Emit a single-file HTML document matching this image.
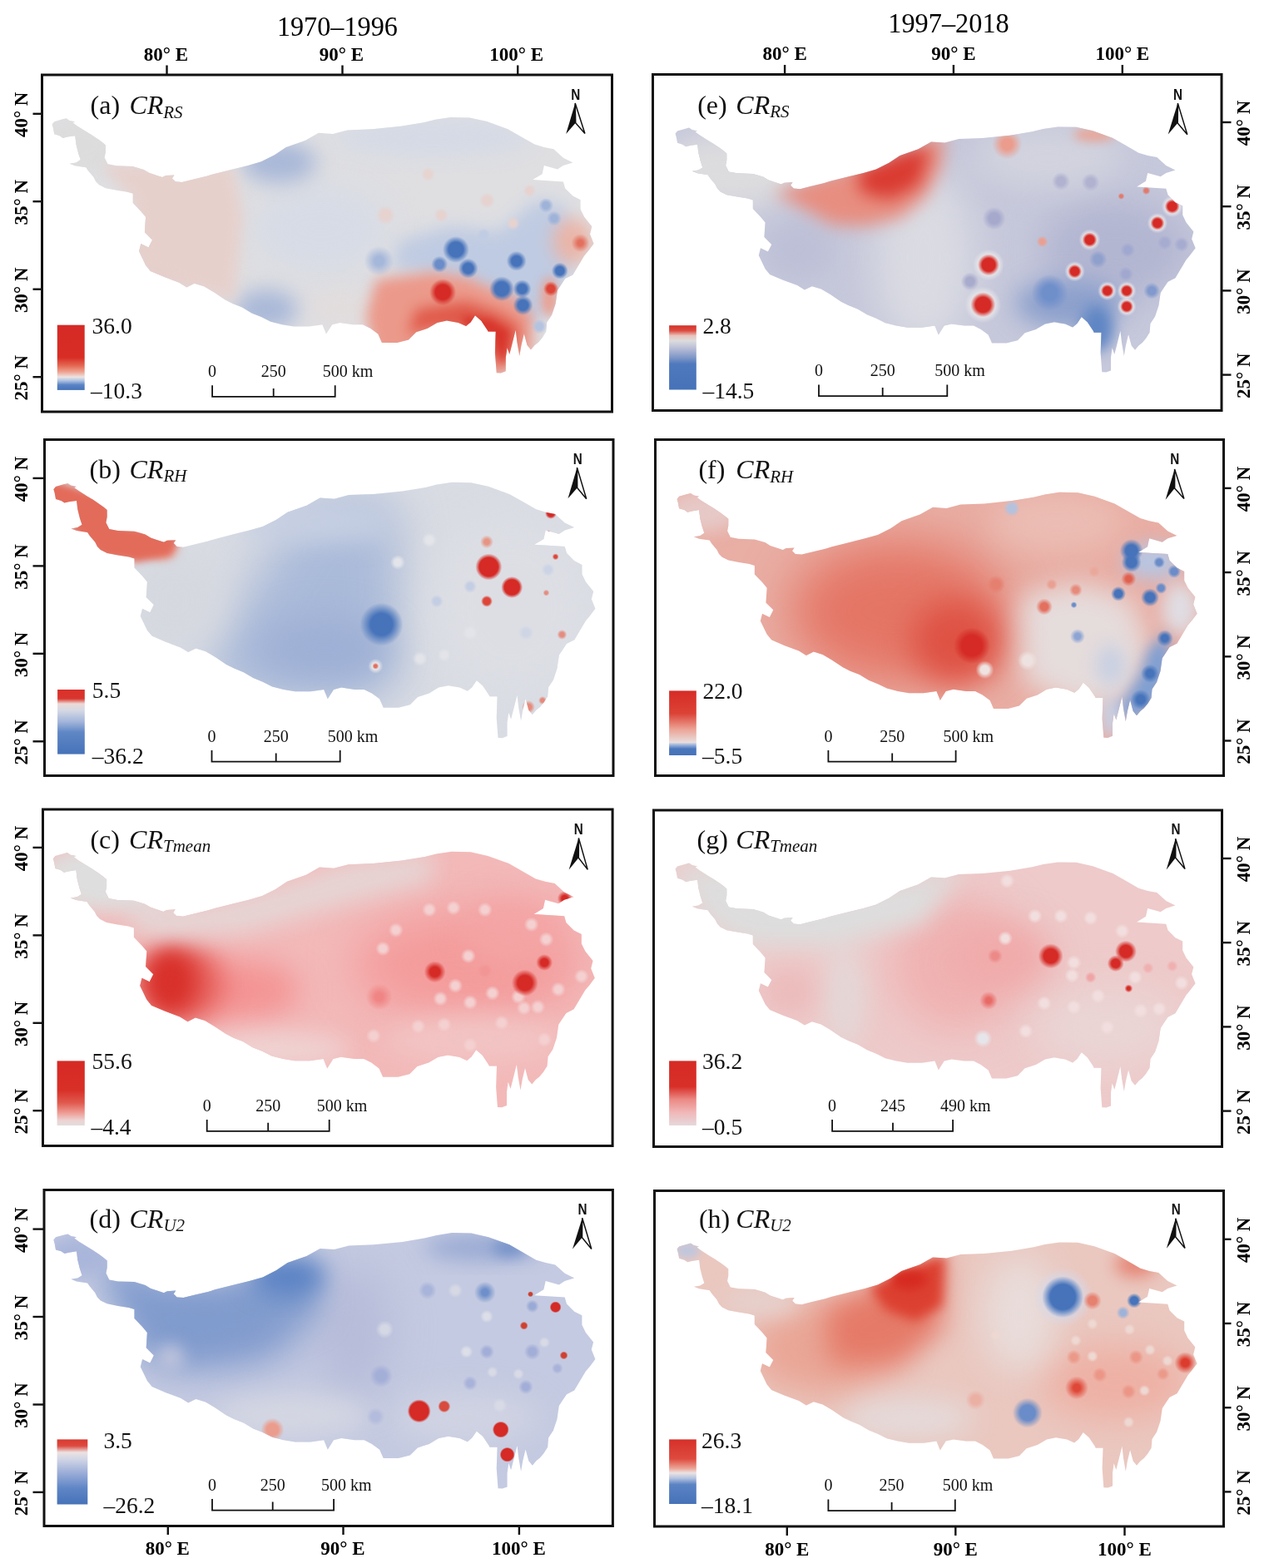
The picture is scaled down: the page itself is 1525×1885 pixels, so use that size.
<!DOCTYPE html>
<html><head><meta charset="utf-8"><title>CR maps</title>
<style>html,body{margin:0;padding:0;background:#fff;}svg{display:block;filter:blur(0.45px);}</style></head>
<body><svg width="1525" height="1885" viewBox="0 0 1525 1885">
<defs><filter id="b4" x="-60%" y="-60%" width="220%" height="220%" color-interpolation-filters="sRGB"><feGaussianBlur stdDeviation="4"/></filter>
<filter id="b5" x="-60%" y="-60%" width="220%" height="220%" color-interpolation-filters="sRGB"><feGaussianBlur stdDeviation="5"/></filter>
<filter id="b6" x="-60%" y="-60%" width="220%" height="220%" color-interpolation-filters="sRGB"><feGaussianBlur stdDeviation="6"/></filter>
<filter id="b7" x="-60%" y="-60%" width="220%" height="220%" color-interpolation-filters="sRGB"><feGaussianBlur stdDeviation="7"/></filter>
<filter id="b8" x="-60%" y="-60%" width="220%" height="220%" color-interpolation-filters="sRGB"><feGaussianBlur stdDeviation="8"/></filter>
<filter id="b10" x="-60%" y="-60%" width="220%" height="220%" color-interpolation-filters="sRGB"><feGaussianBlur stdDeviation="10"/></filter>
<filter id="b12" x="-60%" y="-60%" width="220%" height="220%" color-interpolation-filters="sRGB"><feGaussianBlur stdDeviation="12"/></filter>
<filter id="b14" x="-60%" y="-60%" width="220%" height="220%" color-interpolation-filters="sRGB"><feGaussianBlur stdDeviation="14"/></filter>
<filter id="b16" x="-60%" y="-60%" width="220%" height="220%" color-interpolation-filters="sRGB"><feGaussianBlur stdDeviation="16"/></filter>
<filter id="b18" x="-60%" y="-60%" width="220%" height="220%" color-interpolation-filters="sRGB"><feGaussianBlur stdDeviation="18"/></filter>
<filter id="b20" x="-60%" y="-60%" width="220%" height="220%" color-interpolation-filters="sRGB"><feGaussianBlur stdDeviation="20"/></filter>
<filter id="b22" x="-60%" y="-60%" width="220%" height="220%" color-interpolation-filters="sRGB"><feGaussianBlur stdDeviation="22"/></filter>
<filter id="b24" x="-60%" y="-60%" width="220%" height="220%" color-interpolation-filters="sRGB"><feGaussianBlur stdDeviation="24"/></filter>
<filter id="b26" x="-60%" y="-60%" width="220%" height="220%" color-interpolation-filters="sRGB"><feGaussianBlur stdDeviation="26"/></filter>
<filter id="b28" x="-60%" y="-60%" width="220%" height="220%" color-interpolation-filters="sRGB"><feGaussianBlur stdDeviation="28"/></filter>
<filter id="b30" x="-60%" y="-60%" width="220%" height="220%" color-interpolation-filters="sRGB"><feGaussianBlur stdDeviation="30"/></filter>
<clipPath id="clip_a"><path d="M62.6,149.5 L65.2,146.2 L74.4,143.6 L79.7,142.3 L83.6,144.9 L90.2,146.2 L87.5,147.5 L92.8,151.4 L103.3,158 L109.8,161.9 L117.7,167.2 L123,171.1 L126.9,174.4 L126.9,182.9 L125.6,189.5 L129.5,197.3 L140,199.3 L159.7,200 L166.2,201.9 L172.8,203.9 L179.3,207.8 L187.2,210.5 L195.1,213.1 L199,211.1 L209.5,210.5 L206.9,214.4 L210.8,218.3 L218.7,219 L231.8,215.7 L248.2,211.8 L256.6,209.2 L279.5,203.4 L297.9,198.9 L314,194.3 L330,186.2 L343.8,177 L366.7,169 L382.8,159.8 L400,161 L417.5,156.4 L447.4,155.2 L481.8,151.8 L509.3,147.2 L523.1,143.8 L541.5,141 L564.4,141.5 L585.1,146.1 L610.3,155.2 L626.4,164.4 L642.5,173.6 L653.9,177 L665.4,179.3 L676.9,189.7 L688.4,195.4 L676.9,198.9 L670,203.4 L653.9,198.9 L651.6,209.2 L640.2,216.1 L676.9,218.4 L679.2,226.4 L688.4,235.6 L697.6,240.2 L697.6,251.6 L702.1,260.8 L711.3,272.3 L709,281.5 L713.6,293 L706.7,302.1 L702.1,307.5 L688.4,330.5 L679.2,335.1 L674.6,342 L670,348.9 L667.7,364.9 L663.1,378.7 L657.3,387.5 L656.4,398.6 L651.8,405.9 L647.2,411.4 L642.6,415.1 L638,420.6 L633.5,415.1 L629.8,401.3 L626.5,415 L624.3,428 L621.5,412 L619.7,396.7 L615.1,415.1 L612.3,426.1 L609.5,418 L607.8,430 L607.8,446.3 L602,448.5 L596.7,448.2 L594.9,424.3 L595.8,398.6 L586.6,398.6 L585.7,396.7 L578.4,385.7 L571,379.3 L565.5,387.5 L560,392.1 L550.7,387.9 L536.9,385.6 L525.4,387.9 L513.9,394.8 L500.2,399.3 L491,408.5 L477.2,412 L458.9,412 L454.3,401.6 L445.1,394.8 L435.9,390.2 L424.4,390.2 L408.4,387.9 L399.2,390.2 L392,401.6 L387.4,390.2 L371.3,392.5 L353,392.5 L339.2,390.2 L325.4,386.7 L314,381 L302.5,376.4 L291,369.5 L279.5,364.9 L270.3,360.3 L256.6,351.1 L245.1,344.3 L233.6,340.8 L224.4,345.4 L215.2,339.7 L196.9,332.8 L180.8,325.9 L175.1,319 L167,302.1 L169.3,293 L178.5,297.5 L183.1,288.4 L173.9,279.2 L175.1,260.8 L169.3,253.9 L159.7,243.9 L159.7,232.8 L153.1,230.8 L140,228.8 L126.9,226.2 L119,222.3 L115.1,218.3 L112.5,213.1 L105.9,205.2 L103.3,201.3 L90.2,199.3 L83.6,196.7 L91.5,195.4 L96.7,192.1 L94.1,184.2 L91.5,173.7 L90.2,163.2 L81,164.6 L75.7,165.9 L71.8,163.2 L65.2,161.3 L63.9,154.1 Z"/></clipPath>
<radialGradient id="rg0"><stop offset="0" stop-color="#4673ba"/><stop offset="0.55" stop-color="#4673ba"/><stop offset="1" stop-color="#4673ba" stop-opacity="0"/></radialGradient>
<radialGradient id="rg1"><stop offset="0" stop-color="#6a8cc8"/><stop offset="0.5" stop-color="#6a8cc8"/><stop offset="1" stop-color="#6a8cc8" stop-opacity="0"/></radialGradient>
<radialGradient id="rg2"><stop offset="0" stop-color="#4673ba"/><stop offset="0.5" stop-color="#4673ba"/><stop offset="1" stop-color="#4673ba" stop-opacity="0"/></radialGradient>
<radialGradient id="rg3"><stop offset="0" stop-color="#9fb3d9"/><stop offset="0.45" stop-color="#9fb3d9"/><stop offset="1" stop-color="#9fb3d9" stop-opacity="0"/></radialGradient>
<radialGradient id="rg4"><stop offset="0" stop-color="#a5b7da"/><stop offset="0.3" stop-color="#a5b7da"/><stop offset="1" stop-color="#a5b7da" stop-opacity="0"/></radialGradient>
<radialGradient id="rg5"><stop offset="0" stop-color="#b4c3e0"/><stop offset="0.45" stop-color="#b4c3e0"/><stop offset="1" stop-color="#b4c3e0" stop-opacity="0"/></radialGradient>
<radialGradient id="rg6"><stop offset="0" stop-color="#c0cce3"/><stop offset="0.45" stop-color="#c0cce3"/><stop offset="1" stop-color="#c0cce3" stop-opacity="0"/></radialGradient>
<radialGradient id="rg7"><stop offset="0" stop-color="#d52a25"/><stop offset="0.55" stop-color="#d52a25"/><stop offset="1" stop-color="#d52a25" stop-opacity="0"/></radialGradient>
<radialGradient id="rg8"><stop offset="0" stop-color="#dd4538"/><stop offset="0.5" stop-color="#dd4538"/><stop offset="1" stop-color="#dd4538" stop-opacity="0"/></radialGradient>
<radialGradient id="rg9"><stop offset="0" stop-color="#e3705f"/><stop offset="0.3" stop-color="#e3705f"/><stop offset="1" stop-color="#e3705f" stop-opacity="0"/></radialGradient>
<radialGradient id="rg10"><stop offset="0" stop-color="#e6d2cf"/><stop offset="0.45" stop-color="#e6d2cf"/><stop offset="1" stop-color="#e6d2cf" stop-opacity="0"/></radialGradient>
<radialGradient id="rg11"><stop offset="0" stop-color="#e6d4d1"/><stop offset="0.45" stop-color="#e6d4d1"/><stop offset="1" stop-color="#e6d4d1" stop-opacity="0"/></radialGradient>
<linearGradient id="lg_a" x1="0" y1="0" x2="0" y2="1"><stop offset="0" stop-color="#d52a25"/><stop offset="0.5" stop-color="#d82d25"/><stop offset="0.62" stop-color="#e46650"/><stop offset="0.72" stop-color="#eea290"/><stop offset="0.8" stop-color="#ece4e2"/><stop offset="0.86" stop-color="#a9bfe2"/><stop offset="0.92" stop-color="#5a84c4"/><stop offset="1" stop-color="#4672b9"/></linearGradient>
<clipPath id="clip_b"><path d="M64.4,588.2 L67,584.9 L76.2,582.3 L81.5,581 L85.4,583.6 L92,584.9 L89.3,586.2 L94.6,590.1 L105.1,596.7 L111.6,600.6 L119.5,605.9 L124.8,609.8 L128.7,613.1 L128.7,621.6 L127.4,628.2 L131.3,636 L141.8,638 L161.5,638.7 L168,640.6 L174.6,642.6 L181.1,646.5 L189,649.2 L196.9,651.8 L200.8,649.8 L211.3,649.2 L208.7,653.1 L212.6,657 L220.5,657.7 L233.6,654.4 L250,650.5 L258.4,647.9 L281.3,642.1 L299.7,637.6 L315.8,633 L331.8,624.9 L345.6,615.7 L368.5,607.7 L384.6,598.5 L401.8,599.7 L419.3,595.1 L449.2,593.9 L483.6,590.5 L511.1,585.9 L524.9,582.5 L543.3,579.7 L566.2,580.2 L586.9,584.8 L612.1,593.9 L628.2,603.1 L644.3,612.3 L655.7,615.7 L667.2,618 L678.7,628.4 L690.2,634.1 L678.7,637.6 L671.8,642.1 L655.7,637.6 L653.4,647.9 L642,654.8 L678.7,657.1 L681,665.1 L690.2,674.3 L699.4,678.9 L699.4,690.3 L703.9,699.5 L713.1,711 L710.8,720.2 L715.4,731.7 L708.5,740.8 L703.9,746.2 L690.2,769.2 L681,773.8 L676.4,780.7 L671.8,787.6 L669.5,803.6 L664.9,817.4 L659.1,826.2 L658.2,837.3 L653.6,844.6 L649,850.1 L644.4,853.8 L639.8,859.3 L635.3,853.8 L631.6,840 L628.3,853.7 L626.1,866.7 L623.3,850.7 L621.5,835.4 L616.9,853.8 L614.1,864.8 L611.3,856.7 L609.6,868.7 L609.6,885 L603.8,887.2 L598.5,886.9 L596.7,863 L597.6,837.3 L588.4,837.3 L587.5,835.4 L580.2,824.4 L572.8,818 L567.3,826.2 L561.8,830.8 L552.5,826.6 L538.7,824.3 L527.2,826.6 L515.7,833.5 L502,838 L492.8,847.2 L479,850.7 L460.7,850.7 L456.1,840.3 L446.9,833.5 L437.7,828.9 L426.2,828.9 L410.2,826.6 L401,828.9 L393.8,840.3 L389.2,828.9 L373.1,831.2 L354.8,831.2 L341,828.9 L327.2,825.4 L315.8,819.7 L304.3,815.1 L292.8,808.2 L281.3,803.6 L272.1,799 L258.4,789.8 L246.9,783 L235.4,779.5 L226.2,784.1 L217,778.4 L198.7,771.5 L182.6,764.6 L176.9,757.7 L168.8,740.8 L171.1,731.7 L180.3,736.2 L184.9,727.1 L175.7,717.9 L176.9,699.5 L171.1,692.6 L161.5,682.6 L161.5,671.5 L154.9,669.5 L141.8,667.5 L128.7,664.9 L120.8,661 L116.9,657 L114.3,651.8 L107.7,643.9 L105.1,640 L92,638 L85.4,635.4 L93.3,634.1 L98.5,630.8 L95.9,622.9 L93.3,612.4 L92,601.9 L82.8,603.3 L77.5,604.6 L73.6,601.9 L67,600 L65.7,592.8 Z"/></clipPath>
<radialGradient id="rg12"><stop offset="0" stop-color="#e6e6ea"/><stop offset="0.45" stop-color="#e6e6ea"/><stop offset="1" stop-color="#e6e6ea" stop-opacity="0"/></radialGradient>
<radialGradient id="rg13"><stop offset="0" stop-color="#d52a25"/><stop offset="0.7" stop-color="#d52a25"/><stop offset="1" stop-color="#d52a25" stop-opacity="0"/></radialGradient>
<radialGradient id="rg14"><stop offset="0" stop-color="#dd4538"/><stop offset="0.6" stop-color="#dd4538"/><stop offset="1" stop-color="#dd4538" stop-opacity="0"/></radialGradient>
<radialGradient id="rg15"><stop offset="0" stop-color="#e69585"/><stop offset="0.4" stop-color="#e69585"/><stop offset="1" stop-color="#e69585" stop-opacity="0"/></radialGradient>
<radialGradient id="rg16"><stop offset="0" stop-color="#d52a25"/><stop offset="0.6" stop-color="#d52a25"/><stop offset="1" stop-color="#d52a25" stop-opacity="0"/></radialGradient>
<radialGradient id="rg17"><stop offset="0" stop-color="#d52a25"/><stop offset="0.45" stop-color="#d52a25"/><stop offset="1" stop-color="#d52a25" stop-opacity="0"/></radialGradient>
<radialGradient id="rg18"><stop offset="0" stop-color="#dd4538"/><stop offset="0.45" stop-color="#dd4538"/><stop offset="1" stop-color="#dd4538" stop-opacity="0"/></radialGradient>
<radialGradient id="rg19"><stop offset="0" stop-color="#e48c7f"/><stop offset="0.45" stop-color="#e48c7f"/><stop offset="1" stop-color="#e48c7f" stop-opacity="0"/></radialGradient>
<radialGradient id="rg20"><stop offset="0" stop-color="#e0705f"/><stop offset="0.45" stop-color="#e0705f"/><stop offset="1" stop-color="#e0705f" stop-opacity="0"/></radialGradient>
<radialGradient id="rg21"><stop offset="0" stop-color="#c3cde3"/><stop offset="0.45" stop-color="#c3cde3"/><stop offset="1" stop-color="#c3cde3" stop-opacity="0"/></radialGradient>
<radialGradient id="rg22"><stop offset="0" stop-color="#cfd5e5"/><stop offset="0.45" stop-color="#cfd5e5"/><stop offset="1" stop-color="#cfd5e5" stop-opacity="0"/></radialGradient>
<radialGradient id="rg23"><stop offset="0" stop-color="#cbd3e5"/><stop offset="0.45" stop-color="#cbd3e5"/><stop offset="1" stop-color="#cbd3e5" stop-opacity="0"/></radialGradient>
<radialGradient id="rg24"><stop offset="0" stop-color="#e4e5ea"/><stop offset="0.45" stop-color="#e4e5ea"/><stop offset="1" stop-color="#e4e5ea" stop-opacity="0"/></radialGradient>
<radialGradient id="rg25"><stop offset="0" stop-color="#e2e4ea"/><stop offset="0.45" stop-color="#e2e4ea"/><stop offset="1" stop-color="#e2e4ea" stop-opacity="0"/></radialGradient>
<radialGradient id="rg26"><stop offset="0" stop-color="#e3e4ea"/><stop offset="0.45" stop-color="#e3e4ea"/><stop offset="1" stop-color="#e3e4ea" stop-opacity="0"/></radialGradient>
<radialGradient id="rg27"><stop offset="0" stop-color="#e58a7c"/><stop offset="0.45" stop-color="#e58a7c"/><stop offset="1" stop-color="#e58a7c" stop-opacity="0"/></radialGradient>
<linearGradient id="lg_b" x1="0" y1="0" x2="0" y2="1"><stop offset="0" stop-color="#d8302a"/><stop offset="0.14" stop-color="#d9362e"/><stop offset="0.22" stop-color="#ecd9d6"/><stop offset="0.32" stop-color="#d5d9e4"/><stop offset="0.5" stop-color="#a2b4da"/><stop offset="0.66" stop-color="#5f87c5"/><stop offset="1" stop-color="#4672b9"/></linearGradient>
<clipPath id="clip_c"><path d="M63.8,1032.3 L66.4,1029 L75.6,1026.4 L80.9,1025.1 L84.8,1027.7 L91.4,1029 L88.7,1030.3 L94,1034.2 L104.5,1040.8 L111,1044.7 L118.9,1050 L124.2,1053.9 L128.1,1057.2 L128.1,1065.7 L126.8,1072.3 L130.7,1080.1 L141.2,1082.1 L160.9,1082.8 L167.4,1084.7 L174,1086.7 L180.5,1090.6 L188.4,1093.3 L196.3,1095.9 L200.2,1093.9 L210.7,1093.3 L208.1,1097.2 L212,1101.1 L219.9,1101.8 L233,1098.5 L249.4,1094.6 L257.8,1092 L280.7,1086.2 L299.1,1081.7 L315.2,1077.1 L331.2,1069 L345,1059.8 L367.9,1051.8 L384,1042.6 L401.2,1043.8 L418.7,1039.2 L448.6,1038 L483,1034.6 L510.5,1030 L524.3,1026.6 L542.7,1023.8 L565.6,1024.3 L586.3,1028.9 L611.5,1038 L627.6,1047.2 L643.7,1056.4 L655.1,1059.8 L666.6,1062.1 L678.1,1072.5 L689.6,1078.2 L678.1,1081.7 L671.2,1086.2 L655.1,1081.7 L652.8,1092 L641.4,1098.9 L678.1,1101.2 L680.4,1109.2 L689.6,1118.4 L698.8,1123 L698.8,1134.4 L703.3,1143.6 L712.5,1155.1 L710.2,1164.3 L714.8,1175.8 L707.9,1184.9 L703.3,1190.3 L689.6,1213.3 L680.4,1217.9 L675.8,1224.8 L671.2,1231.7 L668.9,1247.7 L664.3,1261.5 L658.5,1270.3 L657.6,1281.4 L653,1288.7 L648.4,1294.2 L643.8,1297.9 L639.2,1303.4 L634.7,1297.9 L631,1284.1 L627.7,1297.8 L625.5,1310.8 L622.7,1294.8 L620.9,1279.5 L616.3,1297.9 L613.5,1308.9 L610.7,1300.8 L609,1312.8 L609,1329.1 L603.2,1331.3 L597.9,1331 L596.1,1307.1 L597,1281.4 L587.8,1281.4 L586.9,1279.5 L579.6,1268.5 L572.2,1262.1 L566.7,1270.3 L561.2,1274.9 L551.9,1270.7 L538.1,1268.4 L526.6,1270.7 L515.1,1277.6 L501.4,1282.1 L492.2,1291.3 L478.4,1294.8 L460.1,1294.8 L455.5,1284.4 L446.3,1277.6 L437.1,1273 L425.6,1273 L409.6,1270.7 L400.4,1273 L393.2,1284.4 L388.6,1273 L372.5,1275.3 L354.2,1275.3 L340.4,1273 L326.6,1269.5 L315.2,1263.8 L303.7,1259.2 L292.2,1252.3 L280.7,1247.7 L271.5,1243.1 L257.8,1233.9 L246.3,1227.1 L234.8,1223.6 L225.6,1228.2 L216.4,1222.5 L198.1,1215.6 L182,1208.7 L176.3,1201.8 L168.2,1184.9 L170.5,1175.8 L179.7,1180.3 L184.3,1171.2 L175.1,1162 L176.3,1143.6 L170.5,1136.7 L160.9,1126.7 L160.9,1115.6 L154.3,1113.6 L141.2,1111.6 L128.1,1109 L120.2,1105.1 L116.3,1101.1 L113.7,1095.9 L107.1,1088 L104.5,1084.1 L91.4,1082.1 L84.8,1079.5 L92.7,1078.2 L97.9,1074.9 L95.3,1067 L92.7,1056.5 L91.4,1046 L82.2,1047.4 L76.9,1048.7 L73,1046 L66.4,1044.1 L65.1,1036.9 Z"/></clipPath>
<radialGradient id="rg28"><stop offset="0" stop-color="#f4d0d0"/><stop offset="0.45" stop-color="#f4d0d0"/><stop offset="1" stop-color="#f4d0d0" stop-opacity="0"/></radialGradient>
<radialGradient id="rg29"><stop offset="0" stop-color="#d52a25"/><stop offset="0.4" stop-color="#d52a25"/><stop offset="1" stop-color="#d52a25" stop-opacity="0"/></radialGradient>
<radialGradient id="rg30"><stop offset="0" stop-color="#f08585"/><stop offset="0.3" stop-color="#f08585"/><stop offset="1" stop-color="#f08585" stop-opacity="0"/></radialGradient>
<radialGradient id="rg31"><stop offset="0" stop-color="#f29595"/><stop offset="0.45" stop-color="#f29595"/><stop offset="1" stop-color="#f29595" stop-opacity="0"/></radialGradient>
<linearGradient id="lg_c" x1="0" y1="0" x2="0" y2="1"><stop offset="0" stop-color="#d62a24"/><stop offset="0.45" stop-color="#d82f27"/><stop offset="0.65" stop-color="#e05a4e"/><stop offset="0.8" stop-color="#ee9a92"/><stop offset="0.92" stop-color="#ecd2d2"/><stop offset="1" stop-color="#e4dcdc"/></linearGradient>
<clipPath id="clip_d"><path d="M64.4,1490.6 L67,1487.3 L76.2,1484.7 L81.5,1483.4 L85.4,1486 L92,1487.3 L89.3,1488.6 L94.6,1492.5 L105.1,1499.1 L111.6,1503 L119.5,1508.3 L124.8,1512.2 L128.7,1515.5 L128.7,1524 L127.4,1530.6 L131.3,1538.4 L141.8,1540.4 L161.5,1541.1 L168,1543 L174.6,1545 L181.1,1548.9 L189,1551.6 L196.9,1554.2 L200.8,1552.2 L211.3,1551.6 L208.7,1555.5 L212.6,1559.4 L220.5,1560.1 L233.6,1556.8 L250,1552.9 L258.4,1550.3 L281.3,1544.5 L299.7,1540 L315.8,1535.4 L331.8,1527.3 L345.6,1518.1 L368.5,1510.1 L384.6,1500.9 L401.8,1502.1 L419.3,1497.5 L449.2,1496.3 L483.6,1492.9 L511.1,1488.3 L524.9,1484.9 L543.3,1482.1 L566.2,1482.6 L586.9,1487.2 L612.1,1496.3 L628.2,1505.5 L644.3,1514.7 L655.7,1518.1 L667.2,1520.4 L678.7,1530.8 L690.2,1536.5 L678.7,1540 L671.8,1544.5 L655.7,1540 L653.4,1550.3 L642,1557.2 L678.7,1559.5 L681,1567.5 L690.2,1576.7 L699.4,1581.3 L699.4,1592.7 L703.9,1601.9 L713.1,1613.4 L710.8,1622.6 L715.4,1634.1 L708.5,1643.2 L703.9,1648.6 L690.2,1671.6 L681,1676.2 L676.4,1683.1 L671.8,1690 L669.5,1706 L664.9,1719.8 L659.1,1728.6 L658.2,1739.7 L653.6,1747 L649,1752.5 L644.4,1756.2 L639.8,1761.7 L635.3,1756.2 L631.6,1742.4 L628.3,1756.1 L626.1,1769.1 L623.3,1753.1 L621.5,1737.8 L616.9,1756.2 L614.1,1767.2 L611.3,1759.1 L609.6,1771.1 L609.6,1787.4 L603.8,1789.6 L598.5,1789.3 L596.7,1765.4 L597.6,1739.7 L588.4,1739.7 L587.5,1737.8 L580.2,1726.8 L572.8,1720.4 L567.3,1728.6 L561.8,1733.2 L552.5,1729 L538.7,1726.7 L527.2,1729 L515.7,1735.9 L502,1740.4 L492.8,1749.6 L479,1753.1 L460.7,1753.1 L456.1,1742.7 L446.9,1735.9 L437.7,1731.3 L426.2,1731.3 L410.2,1729 L401,1731.3 L393.8,1742.7 L389.2,1731.3 L373.1,1733.6 L354.8,1733.6 L341,1731.3 L327.2,1727.8 L315.8,1722.1 L304.3,1717.5 L292.8,1710.6 L281.3,1706 L272.1,1701.4 L258.4,1692.2 L246.9,1685.4 L235.4,1681.9 L226.2,1686.5 L217,1680.8 L198.7,1673.9 L182.6,1667 L176.9,1660.1 L168.8,1643.2 L171.1,1634.1 L180.3,1638.6 L184.9,1629.5 L175.7,1620.3 L176.9,1601.9 L171.1,1595 L161.5,1585 L161.5,1573.9 L154.9,1571.9 L141.8,1569.9 L128.7,1567.3 L120.8,1563.4 L116.9,1559.4 L114.3,1554.2 L107.7,1546.3 L105.1,1542.4 L92,1540.4 L85.4,1537.8 L93.3,1536.5 L98.5,1533.2 L95.9,1525.3 L93.3,1514.8 L92,1504.3 L82.8,1505.7 L77.5,1507 L73.6,1504.3 L67,1502.4 L65.7,1495.2 Z"/></clipPath>
<radialGradient id="rg32"><stop offset="0" stop-color="#6f8fca"/><stop offset="0.3" stop-color="#6f8fca"/><stop offset="1" stop-color="#6f8fca" stop-opacity="0"/></radialGradient>
<radialGradient id="rg33"><stop offset="0" stop-color="#a9b4da"/><stop offset="0.45" stop-color="#a9b4da"/><stop offset="1" stop-color="#a9b4da" stop-opacity="0"/></radialGradient>
<radialGradient id="rg34"><stop offset="0" stop-color="#9aaad6"/><stop offset="0.45" stop-color="#9aaad6"/><stop offset="1" stop-color="#9aaad6" stop-opacity="0"/></radialGradient>
<radialGradient id="rg35"><stop offset="0" stop-color="#a3aed8"/><stop offset="0.45" stop-color="#a3aed8"/><stop offset="1" stop-color="#a3aed8" stop-opacity="0"/></radialGradient>
<radialGradient id="rg36"><stop offset="0" stop-color="#a4afd8"/><stop offset="0.45" stop-color="#a4afd8"/><stop offset="1" stop-color="#a4afd8" stop-opacity="0"/></radialGradient>
<radialGradient id="rg37"><stop offset="0" stop-color="#a9b3da"/><stop offset="0.45" stop-color="#a9b3da"/><stop offset="1" stop-color="#a9b3da" stop-opacity="0"/></radialGradient>
<radialGradient id="rg38"><stop offset="0" stop-color="#b3bcdc"/><stop offset="0.45" stop-color="#b3bcdc"/><stop offset="1" stop-color="#b3bcdc" stop-opacity="0"/></radialGradient>
<radialGradient id="rg39"><stop offset="0" stop-color="#d4d7e4"/><stop offset="0.45" stop-color="#d4d7e4"/><stop offset="1" stop-color="#d4d7e4" stop-opacity="0"/></radialGradient>
<radialGradient id="rg40"><stop offset="0" stop-color="#d6d8e4"/><stop offset="0.45" stop-color="#d6d8e4"/><stop offset="1" stop-color="#d6d8e4" stop-opacity="0"/></radialGradient>
<radialGradient id="rg41"><stop offset="0" stop-color="#dcdee8"/><stop offset="0.45" stop-color="#dcdee8"/><stop offset="1" stop-color="#dcdee8" stop-opacity="0"/></radialGradient>
<radialGradient id="rg42"><stop offset="0" stop-color="#d8dae6"/><stop offset="0.45" stop-color="#d8dae6"/><stop offset="1" stop-color="#d8dae6" stop-opacity="0"/></radialGradient>
<radialGradient id="rg43"><stop offset="0" stop-color="#eb9d8d"/><stop offset="0.5" stop-color="#eb9d8d"/><stop offset="1" stop-color="#eb9d8d" stop-opacity="0"/></radialGradient>
<radialGradient id="rg44"><stop offset="0" stop-color="#d52a25"/><stop offset="0.8" stop-color="#d52a25"/><stop offset="1" stop-color="#d52a25" stop-opacity="0"/></radialGradient>
<radialGradient id="rg45"><stop offset="0" stop-color="#d84a3e"/><stop offset="0.7" stop-color="#d84a3e"/><stop offset="1" stop-color="#d84a3e" stop-opacity="0"/></radialGradient>
<radialGradient id="rg46"><stop offset="0" stop-color="#d52a25"/><stop offset="0.75" stop-color="#d52a25"/><stop offset="1" stop-color="#d52a25" stop-opacity="0"/></radialGradient>
<radialGradient id="rg47"><stop offset="0" stop-color="#d0402f"/><stop offset="0.6" stop-color="#d0402f"/><stop offset="1" stop-color="#d0402f" stop-opacity="0"/></radialGradient>
<radialGradient id="rg48"><stop offset="0" stop-color="#c9402f"/><stop offset="0.6" stop-color="#c9402f"/><stop offset="1" stop-color="#c9402f" stop-opacity="0"/></radialGradient>
<linearGradient id="lg_d" x1="0" y1="0" x2="0" y2="1"><stop offset="0" stop-color="#d83a30"/><stop offset="0.1" stop-color="#dd4a40"/><stop offset="0.2" stop-color="#ece2e2"/><stop offset="0.3" stop-color="#d2d6e6"/><stop offset="0.5" stop-color="#9fb0d8"/><stop offset="0.75" stop-color="#5f86c6"/><stop offset="1" stop-color="#4672b9"/></linearGradient>
<clipPath id="clip_e"><path d="M811.6,160.5 L814.1,157.4 L822.9,154.9 L828,153.6 L831.8,156.1 L838.1,157.4 L835.5,158.6 L840.6,162.3 L850.7,168.7 L856.9,172.4 L864.5,177.5 L869.6,181.3 L873.3,184.4 L873.3,192.6 L872.1,198.9 L875.8,206.4 L885.9,208.3 L904.8,209 L911.1,210.8 L917.4,212.7 L923.6,216.5 L931.2,219.1 L938.8,221.6 L942.5,219.7 L952.6,219.1 L950.1,222.8 L953.9,226.6 L961.5,227.2 L974,224.1 L989.8,220.3 L997.8,217.8 L1019.8,212.3 L1037.5,207.9 L1052.9,203.5 L1068.3,195.8 L1081.5,186.9 L1103.5,179.2 L1119,170.4 L1135.5,171.6 L1152.3,167.1 L1181,166 L1214,162.7 L1240.4,158.3 L1253.7,155 L1271.3,152.4 L1293.3,152.8 L1313.2,157.3 L1337.4,166 L1352.8,174.8 L1368.3,183.7 L1379.2,186.9 L1390.3,189.1 L1401.3,199.1 L1412.4,204.6 L1401.3,207.9 L1394.7,212.3 L1379.2,207.9 L1377,217.8 L1366.1,224.5 L1401.3,226.7 L1403.5,234.3 L1412.4,243.2 L1421.2,247.6 L1421.2,258.5 L1425.5,267.4 L1434.3,278.4 L1432.1,287.2 L1436.6,298.3 L1429.9,307 L1425.5,312.2 L1412.4,334.3 L1403.5,338.7 L1399.1,345.3 L1394.7,351.9 L1392.5,367.3 L1388.1,380.6 L1382.5,389 L1381.6,399.7 L1377.2,406.7 L1372.8,411.9 L1368.4,415.5 L1364,420.8 L1359.7,415.5 L1356.1,402.2 L1352.9,415.4 L1350.8,427.9 L1348.1,412.5 L1346.4,397.8 L1342,415.5 L1339.3,426.1 L1336.6,418.3 L1335,429.8 L1335,445.4 L1329.4,447.6 L1324.3,447.3 L1322.6,424.3 L1323.5,399.7 L1314.6,399.7 L1313.8,397.8 L1306.8,387.3 L1299.7,381.1 L1294.4,389 L1289.1,393.4 L1280.2,389.4 L1266.9,387.2 L1255.9,389.4 L1244.8,396 L1231.7,400.3 L1222.9,409.2 L1209.6,412.5 L1192,412.5 L1187.6,402.5 L1178.8,396 L1170,391.6 L1158.9,391.6 L1143.6,389.4 L1134.7,391.6 L1127.8,402.5 L1123.4,391.6 L1107.9,393.8 L1090.4,393.8 L1077.1,391.6 L1063.9,388.2 L1052.9,382.8 L1041.9,378.3 L1030.9,371.7 L1019.8,367.3 L1011,362.9 L997.8,354.1 L986.8,347.5 L975.8,344.2 L966.9,348.6 L958.1,343.1 L940.5,336.5 L925.1,329.9 L919.6,323.2 L911.8,307 L914,298.3 L922.9,302.6 L927.3,293.9 L918.4,285 L919.6,267.4 L914,260.7 L904.8,251.1 L904.8,240.5 L898.5,238.6 L885.9,236.6 L873.3,234.2 L865.7,230.4 L862,226.6 L859.5,221.6 L853.2,214 L850.7,210.2 L838.1,208.3 L831.8,205.8 L839.3,204.6 L844.3,201.4 L841.8,193.8 L839.3,183.8 L838.1,173.7 L829.3,175 L824.2,176.3 L820.4,173.7 L814.1,171.8 L812.8,164.9 Z"/></clipPath>
<radialGradient id="rg49"><stop offset="0" stop-color="#6f8fcb"/><stop offset="0.4" stop-color="#6f8fcb"/><stop offset="1" stop-color="#6f8fcb" stop-opacity="0"/></radialGradient>
<radialGradient id="rg50"><stop offset="0" stop-color="#a6a9cc"/><stop offset="0.45" stop-color="#a6a9cc"/><stop offset="1" stop-color="#a6a9cc" stop-opacity="0"/></radialGradient>
<radialGradient id="rg51"><stop offset="0" stop-color="#b0b2d0"/><stop offset="0.45" stop-color="#b0b2d0"/><stop offset="1" stop-color="#b0b2d0" stop-opacity="0"/></radialGradient>
<radialGradient id="rg52"><stop offset="0" stop-color="#8fa0cd"/><stop offset="0.45" stop-color="#8fa0cd"/><stop offset="1" stop-color="#8fa0cd" stop-opacity="0"/></radialGradient>
<radialGradient id="rg53"><stop offset="0" stop-color="#a0a8d0"/><stop offset="0.45" stop-color="#a0a8d0"/><stop offset="1" stop-color="#a0a8d0" stop-opacity="0"/></radialGradient>
<radialGradient id="rg54"><stop offset="0" stop-color="#a6abd0"/><stop offset="0.45" stop-color="#a6abd0"/><stop offset="1" stop-color="#a6abd0" stop-opacity="0"/></radialGradient>
<radialGradient id="rg55"><stop offset="0" stop-color="#a9abcd"/><stop offset="0.45" stop-color="#a9abcd"/><stop offset="1" stop-color="#a9abcd" stop-opacity="0"/></radialGradient>
<radialGradient id="rg56"><stop offset="0" stop-color="#8199cc"/><stop offset="0.45" stop-color="#8199cc"/><stop offset="1" stop-color="#8199cc" stop-opacity="0"/></radialGradient>
<radialGradient id="rg57"><stop offset="0" stop-color="#eb9c8c"/><stop offset="0.35" stop-color="#eb9c8c"/><stop offset="1" stop-color="#eb9c8c" stop-opacity="0"/></radialGradient>
<radialGradient id="rg58"><stop offset="0" stop-color="#e9e7ea"/><stop offset="0.6" stop-color="#e9e7ea"/><stop offset="1" stop-color="#e9e7ea" stop-opacity="0"/></radialGradient>
<radialGradient id="rg59"><stop offset="0" stop-color="#e9a094"/><stop offset="0.45" stop-color="#e9a094"/><stop offset="1" stop-color="#e9a094" stop-opacity="0"/></radialGradient>
<radialGradient id="rg60"><stop offset="0" stop-color="#e07a6c"/><stop offset="0.45" stop-color="#e07a6c"/><stop offset="1" stop-color="#e07a6c" stop-opacity="0"/></radialGradient>
<linearGradient id="lg_e" x1="0" y1="0" x2="0" y2="1"><stop offset="0" stop-color="#d5322b"/><stop offset="0.08" stop-color="#dc4a3f"/><stop offset="0.16" stop-color="#e8c4bc"/><stop offset="0.24" stop-color="#dcdcde"/><stop offset="0.36" stop-color="#b7bcd6"/><stop offset="0.5" stop-color="#7f97c8"/><stop offset="0.6" stop-color="#4f79bd"/><stop offset="1" stop-color="#4672b9"/></linearGradient>
<clipPath id="clip_f"><path d="M813.6,599.9 L816.1,596.8 L824.9,594.3 L830,593 L833.8,595.5 L840.1,596.8 L837.5,598 L842.6,601.7 L852.7,608.1 L858.9,611.8 L866.5,616.9 L871.6,620.7 L875.3,623.8 L875.3,632 L874.1,638.3 L877.8,645.8 L887.9,647.7 L906.8,648.4 L913.1,650.2 L919.4,652.1 L925.6,655.9 L933.2,658.5 L940.8,661 L944.5,659.1 L954.6,658.5 L952.1,662.2 L955.9,666 L963.5,666.6 L976,663.5 L991.8,659.7 L999.8,657.2 L1021.8,651.7 L1039.5,647.3 L1054.9,642.9 L1070.3,635.2 L1083.5,626.3 L1105.5,618.6 L1121,609.8 L1137.5,611 L1154.3,606.5 L1183,605.4 L1216,602.1 L1242.4,597.7 L1255.7,594.4 L1273.3,591.8 L1295.3,592.2 L1315.2,596.7 L1339.4,605.4 L1354.8,614.2 L1370.3,623.1 L1381.2,626.3 L1392.3,628.5 L1403.3,638.5 L1414.4,644 L1403.3,647.3 L1396.7,651.7 L1381.2,647.3 L1379,657.2 L1368.1,663.9 L1403.3,666.1 L1405.5,673.7 L1414.4,682.6 L1423.2,687 L1423.2,697.9 L1427.5,706.8 L1436.3,717.8 L1434.1,726.6 L1438.6,737.7 L1431.9,746.4 L1427.5,751.6 L1414.4,773.7 L1405.5,778.1 L1401.1,784.7 L1396.7,791.3 L1394.5,806.7 L1390.1,820 L1384.5,828.4 L1383.6,839.1 L1379.2,846.1 L1374.8,851.3 L1370.4,854.9 L1366,860.2 L1361.7,854.9 L1358.1,841.6 L1354.9,854.8 L1352.8,867.3 L1350.1,851.9 L1348.4,837.2 L1344,854.9 L1341.3,865.5 L1338.6,857.7 L1337,869.2 L1337,884.8 L1331.4,887 L1326.3,886.7 L1324.6,863.7 L1325.5,839.1 L1316.6,839.1 L1315.8,837.2 L1308.8,826.7 L1301.7,820.5 L1296.4,828.4 L1291.1,832.8 L1282.2,828.8 L1268.9,826.6 L1257.9,828.8 L1246.8,835.4 L1233.7,839.7 L1224.9,848.6 L1211.6,851.9 L1194,851.9 L1189.6,841.9 L1180.8,835.4 L1172,831 L1160.9,831 L1145.6,828.8 L1136.7,831 L1129.8,841.9 L1125.4,831 L1109.9,833.2 L1092.4,833.2 L1079.1,831 L1065.9,827.6 L1054.9,822.2 L1043.9,817.7 L1032.9,811.1 L1021.8,806.7 L1013,802.3 L999.8,793.5 L988.8,786.9 L977.8,783.6 L968.9,788 L960.1,782.5 L942.5,775.9 L927.1,769.3 L921.6,762.6 L913.8,746.4 L916,737.7 L924.9,742 L929.3,733.3 L920.4,724.4 L921.6,706.8 L916,700.1 L906.8,690.5 L906.8,679.9 L900.5,678 L887.9,676 L875.3,673.6 L867.7,669.8 L864,666 L861.5,661 L855.2,653.4 L852.7,649.6 L840.1,647.7 L833.8,645.2 L841.3,644 L846.3,640.8 L843.8,633.2 L841.3,623.2 L840.1,613.1 L831.3,614.4 L826.2,615.7 L822.4,613.1 L816.1,611.2 L814.8,604.3 Z"/></clipPath>
<radialGradient id="rg61"><stop offset="0" stop-color="#efe3e1"/><stop offset="0.45" stop-color="#efe3e1"/><stop offset="1" stop-color="#efe3e1" stop-opacity="0"/></radialGradient>
<radialGradient id="rg62"><stop offset="0" stop-color="#eee2e0"/><stop offset="0.45" stop-color="#eee2e0"/><stop offset="1" stop-color="#eee2e0" stop-opacity="0"/></radialGradient>
<radialGradient id="rg63"><stop offset="0" stop-color="#e57f70"/><stop offset="0.45" stop-color="#e57f70"/><stop offset="1" stop-color="#e57f70" stop-opacity="0"/></radialGradient>
<radialGradient id="rg64"><stop offset="0" stop-color="#e3705f"/><stop offset="0.45" stop-color="#e3705f"/><stop offset="1" stop-color="#e3705f" stop-opacity="0"/></radialGradient>
<radialGradient id="rg65"><stop offset="0" stop-color="#e68a7c"/><stop offset="0.45" stop-color="#e68a7c"/><stop offset="1" stop-color="#e68a7c" stop-opacity="0"/></radialGradient>
<radialGradient id="rg66"><stop offset="0" stop-color="#e9a092"/><stop offset="0.45" stop-color="#e9a092"/><stop offset="1" stop-color="#e9a092" stop-opacity="0"/></radialGradient>
<radialGradient id="rg67"><stop offset="0" stop-color="#eaa89b"/><stop offset="0.45" stop-color="#eaa89b"/><stop offset="1" stop-color="#eaa89b" stop-opacity="0"/></radialGradient>
<radialGradient id="rg68"><stop offset="0" stop-color="#e0604f"/><stop offset="0.4" stop-color="#e0604f"/><stop offset="1" stop-color="#e0604f" stop-opacity="0"/></radialGradient>
<radialGradient id="rg69"><stop offset="0" stop-color="#b4c2de"/><stop offset="0.45" stop-color="#b4c2de"/><stop offset="1" stop-color="#b4c2de" stop-opacity="0"/></radialGradient>
<radialGradient id="rg70"><stop offset="0" stop-color="#4673ba"/><stop offset="0.4" stop-color="#4673ba"/><stop offset="1" stop-color="#4673ba" stop-opacity="0"/></radialGradient>
<radialGradient id="rg71"><stop offset="0" stop-color="#8ea5d3"/><stop offset="0.4" stop-color="#8ea5d3"/><stop offset="1" stop-color="#8ea5d3" stop-opacity="0"/></radialGradient>
<radialGradient id="rg72"><stop offset="0" stop-color="#6a8cc8"/><stop offset="0.45" stop-color="#6a8cc8"/><stop offset="1" stop-color="#6a8cc8" stop-opacity="0"/></radialGradient>
<linearGradient id="lg_f" x1="0" y1="0" x2="0" y2="1"><stop offset="0" stop-color="#d62c26"/><stop offset="0.35" stop-color="#dc4236"/><stop offset="0.6" stop-color="#eca496"/><stop offset="0.8" stop-color="#e8dedd"/><stop offset="0.84" stop-color="#9bb3dc"/><stop offset="0.9" stop-color="#4a76bb"/><stop offset="1" stop-color="#4672b9"/></linearGradient>
<clipPath id="clip_g"><path d="M811.6,1044.5 L814.1,1041.4 L822.9,1038.9 L828,1037.6 L831.8,1040.1 L838.1,1041.4 L835.5,1042.6 L840.6,1046.3 L850.7,1052.7 L856.9,1056.4 L864.5,1061.5 L869.6,1065.3 L873.3,1068.4 L873.3,1076.6 L872.1,1082.9 L875.8,1090.4 L885.9,1092.3 L904.8,1093 L911.1,1094.8 L917.4,1096.7 L923.6,1100.5 L931.2,1103.1 L938.8,1105.6 L942.5,1103.7 L952.6,1103.1 L950.1,1106.8 L953.9,1110.6 L961.5,1111.2 L974,1108.1 L989.8,1104.3 L997.8,1101.8 L1019.8,1096.3 L1037.5,1091.9 L1052.9,1087.5 L1068.3,1079.8 L1081.5,1070.9 L1103.5,1063.2 L1119,1054.4 L1135.5,1055.6 L1152.3,1051.1 L1181,1050 L1214,1046.7 L1240.4,1042.3 L1253.7,1039 L1271.3,1036.4 L1293.3,1036.8 L1313.2,1041.3 L1337.4,1050 L1352.8,1058.8 L1368.3,1067.7 L1379.2,1070.9 L1390.3,1073.1 L1401.3,1083.1 L1412.4,1088.6 L1401.3,1091.9 L1394.7,1096.3 L1379.2,1091.9 L1377,1101.8 L1366.1,1108.5 L1401.3,1110.7 L1403.5,1118.3 L1412.4,1127.2 L1421.2,1131.6 L1421.2,1142.5 L1425.5,1151.4 L1434.3,1162.4 L1432.1,1171.2 L1436.6,1182.3 L1429.9,1191 L1425.5,1196.2 L1412.4,1218.3 L1403.5,1222.7 L1399.1,1229.3 L1394.7,1235.9 L1392.5,1251.3 L1388.1,1264.6 L1382.5,1273 L1381.6,1283.7 L1377.2,1290.7 L1372.8,1295.9 L1368.4,1299.5 L1364,1304.8 L1359.7,1299.5 L1356.1,1286.2 L1352.9,1299.4 L1350.8,1311.9 L1348.1,1296.5 L1346.4,1281.8 L1342,1299.5 L1339.3,1310.1 L1336.6,1302.3 L1335,1313.8 L1335,1329.4 L1329.4,1331.6 L1324.3,1331.3 L1322.6,1308.3 L1323.5,1283.7 L1314.6,1283.7 L1313.8,1281.8 L1306.8,1271.3 L1299.7,1265.1 L1294.4,1273 L1289.1,1277.4 L1280.2,1273.4 L1266.9,1271.2 L1255.9,1273.4 L1244.8,1280 L1231.7,1284.3 L1222.9,1293.2 L1209.6,1296.5 L1192,1296.5 L1187.6,1286.5 L1178.8,1280 L1170,1275.6 L1158.9,1275.6 L1143.6,1273.4 L1134.7,1275.6 L1127.8,1286.5 L1123.4,1275.6 L1107.9,1277.8 L1090.4,1277.8 L1077.1,1275.6 L1063.9,1272.2 L1052.9,1266.8 L1041.9,1262.3 L1030.9,1255.7 L1019.8,1251.3 L1011,1246.9 L997.8,1238.1 L986.8,1231.5 L975.8,1228.2 L966.9,1232.6 L958.1,1227.1 L940.5,1220.5 L925.1,1213.9 L919.6,1207.2 L911.8,1191 L914,1182.3 L922.9,1186.6 L927.3,1177.9 L918.4,1169 L919.6,1151.4 L914,1144.7 L904.8,1135.1 L904.8,1124.5 L898.5,1122.6 L885.9,1120.6 L873.3,1118.2 L865.7,1114.4 L862,1110.6 L859.5,1105.6 L853.2,1098 L850.7,1094.2 L838.1,1092.3 L831.8,1089.8 L839.3,1088.6 L844.3,1085.4 L841.8,1077.8 L839.3,1067.8 L838.1,1057.7 L829.3,1059 L824.2,1060.3 L820.4,1057.7 L814.1,1055.8 L812.8,1048.9 Z"/></clipPath>
<radialGradient id="rg73"><stop offset="0" stop-color="#f2dede"/><stop offset="0.45" stop-color="#f2dede"/><stop offset="1" stop-color="#f2dede" stop-opacity="0"/></radialGradient>
<radialGradient id="rg74"><stop offset="0" stop-color="#d52a25"/><stop offset="0.5" stop-color="#d52a25"/><stop offset="1" stop-color="#d52a25" stop-opacity="0"/></radialGradient>
<radialGradient id="rg75"><stop offset="0" stop-color="#ec8a88"/><stop offset="0.45" stop-color="#ec8a88"/><stop offset="1" stop-color="#ec8a88" stop-opacity="0"/></radialGradient>
<radialGradient id="rg76"><stop offset="0" stop-color="#e86a66"/><stop offset="0.3" stop-color="#e86a66"/><stop offset="1" stop-color="#e86a66" stop-opacity="0"/></radialGradient>
<radialGradient id="rg77"><stop offset="0" stop-color="#f0a5a5"/><stop offset="0.45" stop-color="#f0a5a5"/><stop offset="1" stop-color="#f0a5a5" stop-opacity="0"/></radialGradient>
<radialGradient id="rg78"><stop offset="0" stop-color="#f0b0b0"/><stop offset="0.45" stop-color="#f0b0b0"/><stop offset="1" stop-color="#f0b0b0" stop-opacity="0"/></radialGradient>
<linearGradient id="lg_g" x1="0" y1="0" x2="0" y2="1"><stop offset="0" stop-color="#d62a24"/><stop offset="0.4" stop-color="#d83029"/><stop offset="0.6" stop-color="#ec8a86"/><stop offset="0.8" stop-color="#f0b8b8"/><stop offset="1" stop-color="#e6d8dc"/></linearGradient>
<clipPath id="clip_h"><path d="M813.6,1501.5 L816.1,1498.4 L824.9,1495.9 L830,1494.6 L833.8,1497.1 L840.1,1498.4 L837.5,1499.6 L842.6,1503.3 L852.7,1509.7 L858.9,1513.4 L866.5,1518.5 L871.6,1522.3 L875.3,1525.4 L875.3,1533.6 L874.1,1539.9 L877.8,1547.4 L887.9,1549.3 L906.8,1550 L913.1,1551.8 L919.4,1553.7 L925.6,1557.5 L933.2,1560.1 L940.8,1562.6 L944.5,1560.7 L954.6,1560.1 L952.1,1563.8 L955.9,1567.6 L963.5,1568.2 L976,1565.1 L991.8,1561.3 L999.8,1558.8 L1021.8,1553.3 L1039.5,1548.9 L1054.9,1544.5 L1070.3,1536.8 L1083.5,1527.9 L1105.5,1520.2 L1121,1511.4 L1137.5,1512.6 L1154.3,1508.1 L1183,1507 L1216,1503.7 L1242.4,1499.3 L1255.7,1496 L1273.3,1493.4 L1295.3,1493.8 L1315.2,1498.3 L1339.4,1507 L1354.8,1515.8 L1370.3,1524.7 L1381.2,1527.9 L1392.3,1530.1 L1403.3,1540.1 L1414.4,1545.6 L1403.3,1548.9 L1396.7,1553.3 L1381.2,1548.9 L1379,1558.8 L1368.1,1565.5 L1403.3,1567.7 L1405.5,1575.3 L1414.4,1584.2 L1423.2,1588.6 L1423.2,1599.5 L1427.5,1608.4 L1436.3,1619.4 L1434.1,1628.2 L1438.6,1639.3 L1431.9,1648 L1427.5,1653.2 L1414.4,1675.3 L1405.5,1679.7 L1401.1,1686.3 L1396.7,1692.9 L1394.5,1708.3 L1390.1,1721.6 L1384.5,1730 L1383.6,1740.7 L1379.2,1747.7 L1374.8,1752.9 L1370.4,1756.5 L1366,1761.8 L1361.7,1756.5 L1358.1,1743.2 L1354.9,1756.4 L1352.8,1768.9 L1350.1,1753.5 L1348.4,1738.8 L1344,1756.5 L1341.3,1767.1 L1338.6,1759.3 L1337,1770.8 L1337,1786.4 L1331.4,1788.6 L1326.3,1788.3 L1324.6,1765.3 L1325.5,1740.7 L1316.6,1740.7 L1315.8,1738.8 L1308.8,1728.3 L1301.7,1722.1 L1296.4,1730 L1291.1,1734.4 L1282.2,1730.4 L1268.9,1728.2 L1257.9,1730.4 L1246.8,1737 L1233.7,1741.3 L1224.9,1750.2 L1211.6,1753.5 L1194,1753.5 L1189.6,1743.5 L1180.8,1737 L1172,1732.6 L1160.9,1732.6 L1145.6,1730.4 L1136.7,1732.6 L1129.8,1743.5 L1125.4,1732.6 L1109.9,1734.8 L1092.4,1734.8 L1079.1,1732.6 L1065.9,1729.2 L1054.9,1723.8 L1043.9,1719.3 L1032.9,1712.7 L1021.8,1708.3 L1013,1703.9 L999.8,1695.1 L988.8,1688.5 L977.8,1685.2 L968.9,1689.6 L960.1,1684.1 L942.5,1677.5 L927.1,1670.9 L921.6,1664.2 L913.8,1648 L916,1639.3 L924.9,1643.6 L929.3,1634.9 L920.4,1626 L921.6,1608.4 L916,1601.7 L906.8,1592.1 L906.8,1581.5 L900.5,1579.6 L887.9,1577.6 L875.3,1575.2 L867.7,1571.4 L864,1567.6 L861.5,1562.6 L855.2,1555 L852.7,1551.2 L840.1,1549.3 L833.8,1546.8 L841.3,1545.6 L846.3,1542.4 L843.8,1534.8 L841.3,1524.8 L840.1,1514.7 L831.3,1516 L826.2,1517.3 L822.4,1514.7 L816.1,1512.8 L814.8,1505.9 Z"/></clipPath>
<radialGradient id="rg79"><stop offset="0" stop-color="#d4d9ea"/><stop offset="0.45" stop-color="#d4d9ea"/><stop offset="1" stop-color="#d4d9ea" stop-opacity="0"/></radialGradient>
<radialGradient id="rg80"><stop offset="0" stop-color="#eed8d2"/><stop offset="0.45" stop-color="#eed8d2"/><stop offset="1" stop-color="#eed8d2" stop-opacity="0"/></radialGradient>
<radialGradient id="rg81"><stop offset="0" stop-color="#4673ba"/><stop offset="0.6" stop-color="#4673ba"/><stop offset="1" stop-color="#4673ba" stop-opacity="0"/></radialGradient>
<radialGradient id="rg82"><stop offset="0" stop-color="#9fb2d8"/><stop offset="0.45" stop-color="#9fb2d8"/><stop offset="1" stop-color="#9fb2d8" stop-opacity="0"/></radialGradient>
<radialGradient id="rg83"><stop offset="0" stop-color="#e6806f"/><stop offset="0.45" stop-color="#e6806f"/><stop offset="1" stop-color="#e6806f" stop-opacity="0"/></radialGradient>
<radialGradient id="rg84"><stop offset="0" stop-color="#dc3c2e"/><stop offset="0.35" stop-color="#dc3c2e"/><stop offset="1" stop-color="#dc3c2e" stop-opacity="0"/></radialGradient>
<radialGradient id="rg85"><stop offset="0" stop-color="#df4838"/><stop offset="0.3" stop-color="#df4838"/><stop offset="1" stop-color="#df4838" stop-opacity="0"/></radialGradient>
<radialGradient id="rg86"><stop offset="0" stop-color="#eb9686"/><stop offset="0.45" stop-color="#eb9686"/><stop offset="1" stop-color="#eb9686" stop-opacity="0"/></radialGradient>
<radialGradient id="rg87"><stop offset="0" stop-color="#eb9a8a"/><stop offset="0.45" stop-color="#eb9a8a"/><stop offset="1" stop-color="#eb9a8a" stop-opacity="0"/></radialGradient>
<radialGradient id="rg88"><stop offset="0" stop-color="#ebb0a4"/><stop offset="0.45" stop-color="#ebb0a4"/><stop offset="1" stop-color="#ebb0a4" stop-opacity="0"/></radialGradient>
<linearGradient id="lg_h" x1="0" y1="0" x2="0" y2="1"><stop offset="0" stop-color="#d6302a"/><stop offset="0.3" stop-color="#de4a3e"/><stop offset="0.45" stop-color="#eca597"/><stop offset="0.52" stop-color="#ebe3e3"/><stop offset="0.6" stop-color="#b5c3e0"/><stop offset="0.7" stop-color="#5a83c3"/><stop offset="1" stop-color="#4672b9"/></linearGradient></defs>
<rect width="1525" height="1885" fill="#fff"/>
<text x="405.4" y="43.4" font-family="'Liberation Serif','Times New Roman',serif" font-size="34" text-anchor="middle" textLength="145" lengthAdjust="spacingAndGlyphs">1970–1996</text>
<text x="1140" y="39.2" font-family="'Liberation Serif','Times New Roman',serif" font-size="33.5" text-anchor="middle" textLength="145.5" lengthAdjust="spacingAndGlyphs">1997–2018</text>
<line x1="200.5" y1="78.5" x2="200.5" y2="89" stroke="#111" stroke-width="2.4"/>
<text x="199.5" y="73.4" font-family="'Liberation Serif','Times New Roman',serif" font-weight="bold" font-size="23" text-anchor="middle">80° E</text>
<line x1="411.5" y1="78.5" x2="411.5" y2="89" stroke="#111" stroke-width="2.4"/>
<text x="410.5" y="73.4" font-family="'Liberation Serif','Times New Roman',serif" font-weight="bold" font-size="23" text-anchor="middle">90° E</text>
<line x1="622.2" y1="78.5" x2="622.2" y2="89" stroke="#111" stroke-width="2.4"/>
<text x="620.7" y="73.4" font-family="'Liberation Serif','Times New Roman',serif" font-weight="bold" font-size="23" text-anchor="middle">100° E</text>
<line x1="943.1" y1="78" x2="943.1" y2="88.5" stroke="#111" stroke-width="2.4"/>
<text x="943.1" y="72.3" font-family="'Liberation Serif','Times New Roman',serif" font-weight="bold" font-size="23" text-anchor="middle">80° E</text>
<line x1="1145.9" y1="78" x2="1145.9" y2="88.5" stroke="#111" stroke-width="2.4"/>
<text x="1145.9" y="72.3" font-family="'Liberation Serif','Times New Roman',serif" font-weight="bold" font-size="23" text-anchor="middle">90° E</text>
<line x1="1348.8" y1="78" x2="1348.8" y2="88.5" stroke="#111" stroke-width="2.4"/>
<text x="1348.8" y="72.3" font-family="'Liberation Serif','Times New Roman',serif" font-weight="bold" font-size="23" text-anchor="middle">100° E</text>
<line x1="201.8" y1="1835" x2="201.8" y2="1845" stroke="#111" stroke-width="2.4"/>
<text x="201.3" y="1869.4" font-family="'Liberation Serif','Times New Roman',serif" font-weight="bold" font-size="23" text-anchor="middle">80° E</text>
<line x1="412.5" y1="1835" x2="412.5" y2="1845" stroke="#111" stroke-width="2.4"/>
<text x="412" y="1869.4" font-family="'Liberation Serif','Times New Roman',serif" font-weight="bold" font-size="23" text-anchor="middle">90° E</text>
<line x1="623.9" y1="1835" x2="623.9" y2="1845" stroke="#111" stroke-width="2.4"/>
<text x="623.4" y="1869.4" font-family="'Liberation Serif','Times New Roman',serif" font-weight="bold" font-size="23" text-anchor="middle">100° E</text>
<line x1="945.8" y1="1835.5" x2="945.8" y2="1846" stroke="#111" stroke-width="2.4"/>
<text x="945.8" y="1869.8" font-family="'Liberation Serif','Times New Roman',serif" font-weight="bold" font-size="23" text-anchor="middle">80° E</text>
<line x1="1148.3" y1="1835.5" x2="1148.3" y2="1846" stroke="#111" stroke-width="2.4"/>
<text x="1148.3" y="1869.8" font-family="'Liberation Serif','Times New Roman',serif" font-weight="bold" font-size="23" text-anchor="middle">90° E</text>
<line x1="1351.5" y1="1835.5" x2="1351.5" y2="1846" stroke="#111" stroke-width="2.4"/>
<text x="1351.5" y="1869.8" font-family="'Liberation Serif','Times New Roman',serif" font-weight="bold" font-size="23" text-anchor="middle">100° E</text>
<line x1="39.5" y1="136.8" x2="50" y2="136.8" stroke="#111" stroke-width="2.4"/>
<text transform="translate(33.3 137.8) rotate(-90)" font-family="'Liberation Serif','Times New Roman',serif" font-weight="bold" font-size="23" text-anchor="middle">40° N</text>
<line x1="1468.5" y1="147" x2="1479.5" y2="147" stroke="#111" stroke-width="2.4"/>
<text transform="translate(1502 148) rotate(-90)" font-family="'Liberation Serif','Times New Roman',serif" font-weight="bold" font-size="23" text-anchor="middle">40° N</text>
<line x1="39.5" y1="242.2" x2="50" y2="242.2" stroke="#111" stroke-width="2.4"/>
<text transform="translate(33.3 243.2) rotate(-90)" font-family="'Liberation Serif','Times New Roman',serif" font-weight="bold" font-size="23" text-anchor="middle">35° N</text>
<line x1="1468.5" y1="248.2" x2="1479.5" y2="248.2" stroke="#111" stroke-width="2.4"/>
<text transform="translate(1502 249.2) rotate(-90)" font-family="'Liberation Serif','Times New Roman',serif" font-weight="bold" font-size="23" text-anchor="middle">35° N</text>
<line x1="39.5" y1="347.7" x2="50" y2="347.7" stroke="#111" stroke-width="2.4"/>
<text transform="translate(33.3 348.7) rotate(-90)" font-family="'Liberation Serif','Times New Roman',serif" font-weight="bold" font-size="23" text-anchor="middle">30° N</text>
<line x1="1468.5" y1="349.4" x2="1479.5" y2="349.4" stroke="#111" stroke-width="2.4"/>
<text transform="translate(1502 350.4) rotate(-90)" font-family="'Liberation Serif','Times New Roman',serif" font-weight="bold" font-size="23" text-anchor="middle">30° N</text>
<line x1="39.5" y1="453.2" x2="50" y2="453.2" stroke="#111" stroke-width="2.4"/>
<text transform="translate(33.3 454.2) rotate(-90)" font-family="'Liberation Serif','Times New Roman',serif" font-weight="bold" font-size="23" text-anchor="middle">25° N</text>
<line x1="1468.5" y1="450.6" x2="1479.5" y2="450.6" stroke="#111" stroke-width="2.4"/>
<text transform="translate(1502 451.6) rotate(-90)" font-family="'Liberation Serif','Times New Roman',serif" font-weight="bold" font-size="23" text-anchor="middle">25° N</text>
<line x1="39.5" y1="574.9" x2="53" y2="574.9" stroke="#111" stroke-width="2.4"/>
<text transform="translate(33.3 575.9) rotate(-90)" font-family="'Liberation Serif','Times New Roman',serif" font-weight="bold" font-size="23" text-anchor="middle">40° N</text>
<line x1="1471" y1="586.9" x2="1479.5" y2="586.9" stroke="#111" stroke-width="2.4"/>
<text transform="translate(1502 587.9) rotate(-90)" font-family="'Liberation Serif','Times New Roman',serif" font-weight="bold" font-size="23" text-anchor="middle">40° N</text>
<line x1="39.5" y1="680.4" x2="53" y2="680.4" stroke="#111" stroke-width="2.4"/>
<text transform="translate(33.3 681.4) rotate(-90)" font-family="'Liberation Serif','Times New Roman',serif" font-weight="bold" font-size="23" text-anchor="middle">35° N</text>
<line x1="1471" y1="688.1" x2="1479.5" y2="688.1" stroke="#111" stroke-width="2.4"/>
<text transform="translate(1502 689.1) rotate(-90)" font-family="'Liberation Serif','Times New Roman',serif" font-weight="bold" font-size="23" text-anchor="middle">35° N</text>
<line x1="39.5" y1="785.8" x2="53" y2="785.8" stroke="#111" stroke-width="2.4"/>
<text transform="translate(33.3 786.8) rotate(-90)" font-family="'Liberation Serif','Times New Roman',serif" font-weight="bold" font-size="23" text-anchor="middle">30° N</text>
<line x1="1471" y1="789.3" x2="1479.5" y2="789.3" stroke="#111" stroke-width="2.4"/>
<text transform="translate(1502 790.3) rotate(-90)" font-family="'Liberation Serif','Times New Roman',serif" font-weight="bold" font-size="23" text-anchor="middle">30° N</text>
<line x1="39.5" y1="891.3" x2="53" y2="891.3" stroke="#111" stroke-width="2.4"/>
<text transform="translate(33.3 892.3) rotate(-90)" font-family="'Liberation Serif','Times New Roman',serif" font-weight="bold" font-size="23" text-anchor="middle">25° N</text>
<line x1="1471" y1="890.5" x2="1479.5" y2="890.5" stroke="#111" stroke-width="2.4"/>
<text transform="translate(1502 891.5) rotate(-90)" font-family="'Liberation Serif','Times New Roman',serif" font-weight="bold" font-size="23" text-anchor="middle">25° N</text>
<line x1="39.5" y1="1018.9" x2="51" y2="1018.9" stroke="#111" stroke-width="2.4"/>
<text transform="translate(33.3 1019.9) rotate(-90)" font-family="'Liberation Serif','Times New Roman',serif" font-weight="bold" font-size="23" text-anchor="middle">40° N</text>
<line x1="1469" y1="1032" x2="1479.5" y2="1032" stroke="#111" stroke-width="2.4"/>
<text transform="translate(1502 1033) rotate(-90)" font-family="'Liberation Serif','Times New Roman',serif" font-weight="bold" font-size="23" text-anchor="middle">40° N</text>
<line x1="39.5" y1="1124.4" x2="51" y2="1124.4" stroke="#111" stroke-width="2.4"/>
<text transform="translate(33.3 1125.4) rotate(-90)" font-family="'Liberation Serif','Times New Roman',serif" font-weight="bold" font-size="23" text-anchor="middle">35° N</text>
<line x1="1469" y1="1133.2" x2="1479.5" y2="1133.2" stroke="#111" stroke-width="2.4"/>
<text transform="translate(1502 1134.2) rotate(-90)" font-family="'Liberation Serif','Times New Roman',serif" font-weight="bold" font-size="23" text-anchor="middle">35° N</text>
<line x1="39.5" y1="1229.8" x2="51" y2="1229.8" stroke="#111" stroke-width="2.4"/>
<text transform="translate(33.3 1230.8) rotate(-90)" font-family="'Liberation Serif','Times New Roman',serif" font-weight="bold" font-size="23" text-anchor="middle">30° N</text>
<line x1="1469" y1="1234.4" x2="1479.5" y2="1234.4" stroke="#111" stroke-width="2.4"/>
<text transform="translate(1502 1235.4) rotate(-90)" font-family="'Liberation Serif','Times New Roman',serif" font-weight="bold" font-size="23" text-anchor="middle">30° N</text>
<line x1="39.5" y1="1335.2" x2="51" y2="1335.2" stroke="#111" stroke-width="2.4"/>
<text transform="translate(33.3 1336.2) rotate(-90)" font-family="'Liberation Serif','Times New Roman',serif" font-weight="bold" font-size="23" text-anchor="middle">25° N</text>
<line x1="1469" y1="1335.6" x2="1479.5" y2="1335.6" stroke="#111" stroke-width="2.4"/>
<text transform="translate(1502 1336.6) rotate(-90)" font-family="'Liberation Serif','Times New Roman',serif" font-weight="bold" font-size="23" text-anchor="middle">25° N</text>
<line x1="39.5" y1="1477.6" x2="52.5" y2="1477.6" stroke="#111" stroke-width="2.4"/>
<text transform="translate(33.3 1478.6) rotate(-90)" font-family="'Liberation Serif','Times New Roman',serif" font-weight="bold" font-size="23" text-anchor="middle">40° N</text>
<line x1="1471" y1="1489.8" x2="1479.5" y2="1489.8" stroke="#111" stroke-width="2.4"/>
<text transform="translate(1502 1490.8) rotate(-90)" font-family="'Liberation Serif','Times New Roman',serif" font-weight="bold" font-size="23" text-anchor="middle">40° N</text>
<line x1="39.5" y1="1583" x2="52.5" y2="1583" stroke="#111" stroke-width="2.4"/>
<text transform="translate(33.3 1584) rotate(-90)" font-family="'Liberation Serif','Times New Roman',serif" font-weight="bold" font-size="23" text-anchor="middle">35° N</text>
<line x1="1471" y1="1591" x2="1479.5" y2="1591" stroke="#111" stroke-width="2.4"/>
<text transform="translate(1502 1592) rotate(-90)" font-family="'Liberation Serif','Times New Roman',serif" font-weight="bold" font-size="23" text-anchor="middle">35° N</text>
<line x1="39.5" y1="1688.5" x2="52.5" y2="1688.5" stroke="#111" stroke-width="2.4"/>
<text transform="translate(33.3 1689.5) rotate(-90)" font-family="'Liberation Serif','Times New Roman',serif" font-weight="bold" font-size="23" text-anchor="middle">30° N</text>
<line x1="1471" y1="1692.2" x2="1479.5" y2="1692.2" stroke="#111" stroke-width="2.4"/>
<text transform="translate(1502 1693.2) rotate(-90)" font-family="'Liberation Serif','Times New Roman',serif" font-weight="bold" font-size="23" text-anchor="middle">30° N</text>
<line x1="39.5" y1="1793.9" x2="52.5" y2="1793.9" stroke="#111" stroke-width="2.4"/>
<text transform="translate(33.3 1794.9) rotate(-90)" font-family="'Liberation Serif','Times New Roman',serif" font-weight="bold" font-size="23" text-anchor="middle">25° N</text>
<line x1="1471" y1="1793.4" x2="1479.5" y2="1793.4" stroke="#111" stroke-width="2.4"/>
<text transform="translate(1502 1794.4) rotate(-90)" font-family="'Liberation Serif','Times New Roman',serif" font-weight="bold" font-size="23" text-anchor="middle">25° N</text>
<g clip-path="url(#clip_a)">
<rect x="49" y="88.5" width="688" height="408" fill="#dfdfe2"/>
<g filter="url(#b20)">
<ellipse cx="385" cy="275" rx="80" ry="50" fill="#d6dbe6" opacity="1"/>
</g>
<g filter="url(#b16)">
<ellipse cx="205" cy="290" rx="40" ry="50" fill="#e6c3bc" opacity="1"/>
</g>
<g filter="url(#b14)">
<ellipse cx="520" cy="165" rx="120" ry="20" fill="#d3d9e6" opacity="1"/>
</g>
<g filter="url(#b12)">
<ellipse cx="335" cy="195" rx="45" ry="25" fill="#a9b8d8" opacity="1"/>
<ellipse cx="320" cy="372" rx="38" ry="24" fill="#a9b8d8" opacity="1"/>
<ellipse cx="410" cy="370" rx="40" ry="20" fill="#e2dcdc" opacity="1"/>
</g>
<g filter="url(#b10)">
<ellipse cx="95" cy="175" rx="45" ry="30" fill="#dcdcdc" opacity="1"/>
<polygon points="480,290 540,272 600,278 645,240 680,248 690,320 655,380 630,392 600,362 560,342 520,332 470,322" fill="#bfcbe2" opacity="1"/>
<ellipse cx="688" cy="290" rx="24" ry="28" fill="#eab5a8" opacity="1"/>
</g>
<g filter="url(#b8)">
<polygon points="120,198 280,198 292,260 282,362 230,348 170,322 160,240" fill="#e6d0cc" opacity="1"/>
<polygon points="452,336 520,327 560,333 590,346 618,356 640,378 640,425 600,455 450,425 440,380" fill="#eb998a" opacity="1"/>
<polygon points="500,372 560,362 600,376 625,392 620,420 600,440 560,398 520,394 490,402" fill="#e05a4a" opacity="1"/>
</g>
<g filter="url(#b6)">
<ellipse cx="660" cy="357" rx="10" ry="24" fill="#e9a193" opacity="1"/>
</g>
<g filter="url(#b5)">
<polygon points="555,380 590,384 612,398 606,440 590,402 560,393" fill="#d8352c" opacity="1"/>
</g>
<circle cx="547.9" cy="300" r="16" fill="url(#rg0)"/>
<circle cx="528.2" cy="317.7" r="10" fill="url(#rg1)"/>
<circle cx="562.6" cy="322.6" r="12" fill="url(#rg2)"/>
<circle cx="620.7" cy="313.8" r="12" fill="url(#rg2)"/>
<circle cx="603" cy="347.2" r="15" fill="url(#rg0)"/>
<circle cx="627.5" cy="347.2" r="11" fill="url(#rg2)"/>
<circle cx="628.5" cy="366.9" r="12" fill="url(#rg2)"/>
<circle cx="672.8" cy="325.6" r="10" fill="url(#rg2)"/>
<circle cx="656.1" cy="246.9" r="9" fill="url(#rg3)"/>
<circle cx="665.9" cy="262.6" r="9" fill="url(#rg3)"/>
<circle cx="455.4" cy="313.8" r="18" fill="url(#rg4)"/>
<circle cx="648.2" cy="392.5" r="9" fill="url(#rg5)"/>
<circle cx="581.3" cy="282.3" r="8" fill="url(#rg6)"/>
<circle cx="532.1" cy="351.2" r="16" fill="url(#rg7)"/>
<circle cx="662" cy="347.2" r="9" fill="url(#rg8)"/>
<circle cx="697.4" cy="292.1" r="11" fill="url(#rg9)"/>
<circle cx="463.3" cy="258.7" r="12" fill="url(#rg10)"/>
<circle cx="530.2" cy="258.7" r="9" fill="url(#rg10)"/>
<circle cx="585.3" cy="241" r="10" fill="url(#rg10)"/>
<circle cx="616.7" cy="268.5" r="8" fill="url(#rg10)"/>
<circle cx="514.4" cy="209.5" r="9" fill="url(#rg11)"/>
<circle cx="636.4" cy="229.2" r="8" fill="url(#rg10)"/>
</g>
<rect x="50.5" y="90" width="685" height="405" fill="none" stroke="#111" stroke-width="3"/>
<text x="108.6" y="137.3" font-family="'Liberation Serif','Times New Roman',serif" font-size="32" fill="#111">(a)</text>
<text x="155.4" y="137.3" font-family="'Liberation Serif','Times New Roman',serif" font-size="32" font-style="italic" fill="#111">CR<tspan font-size="21" dy="4.2">RS</tspan></text>
<text x="691.8" y="120" font-family="'Liberation Sans',Arial,sans-serif" font-size="17.5" font-weight="bold" text-anchor="middle" textLength="11" lengthAdjust="spacingAndGlyphs" fill="#111">N</text>
<path d="M691.2,123.9 L680.2,161.1 L691.7,147.8 Z" fill="#111"/>
<path d="M691.2,123.9 L702.9,160.6 L691.7,147.8 Z" fill="none" stroke="#111" stroke-width="1.5" stroke-linejoin="miter"/>
<rect x="68.8" y="390.7" width="32.9" height="78.2" fill="url(#lg_a)"/>
<text x="110.6" y="401.4" font-family="'Liberation Serif','Times New Roman',serif" font-size="27.5" fill="#111">36.0</text>
<text x="109.1" y="479.3" font-family="'Liberation Serif','Times New Roman',serif" font-size="27.5" fill="#111">–10.3</text>
<path d="M255.1,463.2 V476.9 H402.7 V463.2 M328.7,476.9 V466.9" fill="none" stroke="#111" stroke-width="1.8"/>
<text x="255.1" y="453.1" font-family="'Liberation Serif','Times New Roman',serif" font-size="20" text-anchor="middle" fill="#111">0</text>
<text x="328.7" y="453.1" font-family="'Liberation Serif','Times New Roman',serif" font-size="20" text-anchor="middle" fill="#111">250</text>
<text x="387.7" y="453.1" font-family="'Liberation Serif','Times New Roman',serif" font-size="20" fill="#111">500 km</text>
<g clip-path="url(#clip_b)">
<rect x="52" y="527" width="686.5" height="407" fill="#d9dce3"/>
<g filter="url(#b28)">
<polygon points="365,605 470,600 482,700 470,838 300,842 240,812 285,730" fill="#aabad9" opacity="1"/>
</g>
<g filter="url(#b24)">
<ellipse cx="615" cy="730" rx="100" ry="110" fill="#dcdee4" opacity="1"/>
</g>
<g filter="url(#b20)">
<ellipse cx="210" cy="722" rx="60" ry="60" fill="#d5d8df" opacity="1"/>
<ellipse cx="390" cy="780" rx="80" ry="40" fill="#9eb0d5" opacity="1"/>
</g>
<g filter="url(#b16)">
<ellipse cx="380" cy="628" rx="95" ry="25" fill="#c6cfe2" opacity="1"/>
</g>
<g filter="url(#b6)">
<ellipse cx="195" cy="660" rx="18" ry="12" fill="#e9a090" opacity="1"/>
</g>
<g filter="url(#b4)">
<polygon points="55,575 130,598 142,630 200,640 216,648 205,668 165,676 120,670 90,640 50,600" fill="#e36b5a" opacity="1"/>
</g>
<circle cx="451.3" cy="800.8" r="9" fill="url(#rg12)"/>
<circle cx="458.5" cy="750.6" r="26" fill="url(#rg2)"/>
<circle cx="587.3" cy="681.5" r="16" fill="url(#rg13)"/>
<circle cx="615.2" cy="706" r="13" fill="url(#rg13)"/>
<circle cx="585" cy="722.8" r="7" fill="url(#rg14)"/>
<circle cx="585" cy="651.4" r="8" fill="url(#rg15)"/>
<circle cx="662" cy="616.9" r="7" fill="url(#rg16)"/>
<circle cx="658.6" cy="640.3" r="3" fill="url(#rg17)"/>
<circle cx="667.6" cy="669.3" r="4" fill="url(#rg18)"/>
<circle cx="656.4" cy="712.7" r="4" fill="url(#rg19)"/>
<circle cx="675.4" cy="762.9" r="6" fill="url(#rg19)"/>
<circle cx="451.3" cy="800.8" r="4" fill="url(#rg20)"/>
<circle cx="565" cy="705" r="8" fill="url(#rg21)"/>
<circle cx="524.8" cy="722.8" r="8" fill="url(#rg21)"/>
<circle cx="632" cy="760.7" r="9" fill="url(#rg22)"/>
<circle cx="658.6" cy="684.9" r="8" fill="url(#rg23)"/>
<circle cx="516" cy="649.2" r="9" fill="url(#rg24)"/>
<circle cx="478" cy="676" r="9" fill="url(#rg25)"/>
<circle cx="565" cy="760.7" r="9" fill="url(#rg26)"/>
<circle cx="504.8" cy="791.9" r="9" fill="url(#rg26)"/>
<circle cx="533.8" cy="787.4" r="8" fill="url(#rg26)"/>
<circle cx="635" cy="850" r="8" fill="url(#rg27)"/>
<circle cx="652" cy="842" r="5" fill="url(#rg27)"/>
</g>
<rect x="53.5" y="528.5" width="683.5" height="404" fill="none" stroke="#111" stroke-width="3"/>
<text x="107.6" y="574.8" font-family="'Liberation Serif','Times New Roman',serif" font-size="32" fill="#111">(b)</text>
<text x="155.5" y="574.8" font-family="'Liberation Serif','Times New Roman',serif" font-size="32" font-style="italic" fill="#111">CR<tspan font-size="21" dy="4.2">RH</tspan></text>
<text x="694.2" y="558" font-family="'Liberation Sans',Arial,sans-serif" font-size="17.5" font-weight="bold" text-anchor="middle" textLength="11" lengthAdjust="spacingAndGlyphs" fill="#111">N</text>
<path d="M693.5,562.1 L682.5,599.2 L693.7,586.4 Z" fill="#111"/>
<path d="M693.5,562.1 L704.7,599.7 L693.7,586.4 Z" fill="none" stroke="#111" stroke-width="1.5" stroke-linejoin="miter"/>
<rect x="69.1" y="829" width="32.7" height="77.6" fill="url(#lg_b)"/>
<text x="110.8" y="839.4" font-family="'Liberation Serif','Times New Roman',serif" font-size="27.5" fill="#111">5.5</text>
<text x="110.8" y="917.5" font-family="'Liberation Serif','Times New Roman',serif" font-size="27.5" fill="#111">–36.2</text>
<path d="M254.5,901.9 V915.6 H408.7 V901.9 M331.7,915.6 V905.6" fill="none" stroke="#111" stroke-width="1.8"/>
<text x="254.5" y="891.8" font-family="'Liberation Serif','Times New Roman',serif" font-size="20" text-anchor="middle" fill="#111">0</text>
<text x="331.7" y="891.8" font-family="'Liberation Serif','Times New Roman',serif" font-size="20" text-anchor="middle" fill="#111">250</text>
<text x="393.7" y="891.8" font-family="'Liberation Serif','Times New Roman',serif" font-size="20" fill="#111">500 km</text>
<g clip-path="url(#clip_c)">
<rect x="50" y="971.5" width="687.6" height="407.5" fill="#f3b9b9"/>
<g filter="url(#b26)">
<ellipse cx="560" cy="1160" rx="135" ry="65" fill="#f49c9c" opacity="1"/>
</g>
<g filter="url(#b20)">
<ellipse cx="620" cy="1120" rx="60" ry="40" fill="#f4a4a4" opacity="1"/>
</g>
<g filter="url(#b18)">
<ellipse cx="290" cy="1190" rx="70" ry="35" fill="#f49393" opacity="1"/>
</g>
<g filter="url(#b16)">
<ellipse cx="215" cy="1182" rx="52" ry="50" fill="#e55a55" opacity="1"/>
<ellipse cx="570" cy="1250" rx="110" ry="28" fill="#f2c4c4" opacity="1"/>
</g>
<g filter="url(#b14)">
<polygon points="150,1080 250,1085 330,1065 420,1035 520,1025 520,1060 400,1092 300,1122 200,1132 160,1122" fill="#e6d4d4" opacity="1"/>
<ellipse cx="330" cy="1262" rx="90" ry="22" fill="#efd2d2" opacity="1"/>
</g>
<g filter="url(#b12)">
<ellipse cx="130" cy="1055" rx="85" ry="42" fill="#dedede" opacity="1"/>
<ellipse cx="205" cy="1180" rx="30" ry="38" fill="#d8302a" opacity="1"/>
</g>
<circle cx="516" cy="1093.6" r="9" fill="url(#rg28)"/>
<circle cx="545" cy="1091.3" r="9" fill="url(#rg28)"/>
<circle cx="475.8" cy="1118.1" r="9" fill="url(#rg28)"/>
<circle cx="460.2" cy="1140.4" r="9" fill="url(#rg28)"/>
<circle cx="562.8" cy="1149.3" r="9" fill="url(#rg28)"/>
<circle cx="547.2" cy="1185" r="9" fill="url(#rg28)"/>
<circle cx="529.3" cy="1200.6" r="9" fill="url(#rg28)"/>
<circle cx="565" cy="1205" r="9" fill="url(#rg28)"/>
<circle cx="591.7" cy="1193.9" r="9" fill="url(#rg28)"/>
<circle cx="623" cy="1198.4" r="9" fill="url(#rg28)"/>
<circle cx="629.7" cy="1211.8" r="9" fill="url(#rg28)"/>
<circle cx="646.4" cy="1210.6" r="9" fill="url(#rg28)"/>
<circle cx="670.9" cy="1189.5" r="9" fill="url(#rg28)"/>
<circle cx="656.4" cy="1129.3" r="9" fill="url(#rg28)"/>
<circle cx="698.8" cy="1173.8" r="9" fill="url(#rg28)"/>
<circle cx="502.6" cy="1234" r="9" fill="url(#rg28)"/>
<circle cx="533.8" cy="1231.8" r="9" fill="url(#rg28)"/>
<circle cx="602.9" cy="1229.6" r="9" fill="url(#rg28)"/>
<circle cx="565" cy="1256.3" r="9" fill="url(#rg28)"/>
<circle cx="582.8" cy="1093.6" r="9" fill="url(#rg28)"/>
<circle cx="638.6" cy="1111.4" r="9" fill="url(#rg28)"/>
<circle cx="654.2" cy="1249.7" r="9" fill="url(#rg28)"/>
<circle cx="449" cy="1245.2" r="9" fill="url(#rg28)"/>
<circle cx="522.6" cy="1168.3" r="13" fill="url(#rg17)"/>
<circle cx="630.8" cy="1181.6" r="16" fill="url(#rg7)"/>
<circle cx="654.2" cy="1157.1" r="10" fill="url(#rg17)"/>
<circle cx="678.7" cy="1080.2" r="9" fill="url(#rg29)"/>
<circle cx="455.7" cy="1198.4" r="16" fill="url(#rg30)"/>
<circle cx="582.8" cy="1167.2" r="9" fill="url(#rg31)"/>
</g>
<rect x="51.5" y="973" width="684.6" height="404.5" fill="none" stroke="#111" stroke-width="3"/>
<text x="108.4" y="1019.8" font-family="'Liberation Serif','Times New Roman',serif" font-size="32" fill="#111">(c)</text>
<text x="155.1" y="1019.8" font-family="'Liberation Serif','Times New Roman',serif" font-size="32" font-style="italic" fill="#111">CR<tspan font-size="21" dy="4.2">Tmean</tspan></text>
<text x="695.2" y="1003.2" font-family="'Liberation Sans',Arial,sans-serif" font-size="17.5" font-weight="bold" text-anchor="middle" textLength="11" lengthAdjust="spacingAndGlyphs" fill="#111">N</text>
<path d="M695.4,1007.5 L683.7,1045.4 L695.3,1031.3 Z" fill="#111"/>
<path d="M695.4,1007.5 L706.2,1045.4 L695.3,1031.3 Z" fill="none" stroke="#111" stroke-width="1.5" stroke-linejoin="miter"/>
<rect x="68.6" y="1275.4" width="33.2" height="77.6" fill="url(#lg_c)"/>
<text x="110.5" y="1284.9" font-family="'Liberation Serif','Times New Roman',serif" font-size="27.5" fill="#111">55.6</text>
<text x="109.4" y="1363.8" font-family="'Liberation Serif','Times New Roman',serif" font-size="27.5" fill="#111">–4.4</text>
<path d="M248.7,1346.1 V1359.8 H395.7 V1346.1 M322.2,1359.8 V1349.8" fill="none" stroke="#111" stroke-width="1.8"/>
<text x="248.7" y="1336" font-family="'Liberation Serif','Times New Roman',serif" font-size="20" text-anchor="middle" fill="#111">0</text>
<text x="322.2" y="1336" font-family="'Liberation Serif','Times New Roman',serif" font-size="20" text-anchor="middle" fill="#111">250</text>
<text x="380.7" y="1336" font-family="'Liberation Serif','Times New Roman',serif" font-size="20" fill="#111">500 km</text>
<g clip-path="url(#clip_d)">
<rect x="51.5" y="1429" width="686.4" height="407" fill="#c4cae1"/>
<g filter="url(#b24)">
<ellipse cx="260" cy="1600" rx="100" ry="45" fill="#8ea3d1" opacity="1"/>
<ellipse cx="425" cy="1600" rx="45" ry="80" fill="#b7bcd9" opacity="1"/>
</g>
<g filter="url(#b18)">
<polygon points="120,1510 200,1545 260,1550 330,1528 380,1512 385,1580 300,1620 200,1640 160,1600 130,1550" fill="#809bcd" opacity="1"/>
<ellipse cx="560" cy="1705" rx="90" ry="30" fill="#d0d3e2" opacity="1"/>
</g>
<g filter="url(#b16)">
<ellipse cx="350" cy="1702" rx="95" ry="25" fill="#d5d7e2" opacity="1"/>
</g>
<g filter="url(#b14)">
<ellipse cx="345" cy="1535" rx="45" ry="22" fill="#5a82c4" opacity="1"/>
</g>
<g filter="url(#b12)">
<ellipse cx="580" cy="1500" rx="70" ry="15" fill="#97a8d3" opacity="1"/>
</g>
<g filter="url(#b10)">
<ellipse cx="95" cy="1510" rx="40" ry="25" fill="#a9b5da" opacity="1"/>
<ellipse cx="205" cy="1632" rx="16" ry="16" fill="#c2c6dd" opacity="1"/>
</g>
<g filter="url(#b8)">
<ellipse cx="612" cy="1500" rx="20" ry="10" fill="#7290c8" opacity="1"/>
</g>
<circle cx="582.8" cy="1553.6" r="13" fill="url(#rg32)"/>
<circle cx="513.7" cy="1551.3" r="11" fill="url(#rg33)"/>
<circle cx="639.7" cy="1570.3" r="8" fill="url(#rg34)"/>
<circle cx="585" cy="1625" r="9" fill="url(#rg35)"/>
<circle cx="639.7" cy="1625" r="10" fill="url(#rg35)"/>
<circle cx="458" cy="1654" r="14" fill="url(#rg36)"/>
<circle cx="565" cy="1662.8" r="9" fill="url(#rg37)"/>
<circle cx="631.9" cy="1667.3" r="9" fill="url(#rg35)"/>
<circle cx="669.8" cy="1645" r="7" fill="url(#rg37)"/>
<circle cx="451.3" cy="1703" r="11" fill="url(#rg38)"/>
<circle cx="462.4" cy="1598.2" r="11" fill="url(#rg39)"/>
<circle cx="547.2" cy="1551.3" r="9" fill="url(#rg40)"/>
<circle cx="585" cy="1582.6" r="8" fill="url(#rg41)"/>
<circle cx="560.5" cy="1625" r="8" fill="url(#rg41)"/>
<circle cx="600.7" cy="1689.6" r="9" fill="url(#rg42)"/>
<circle cx="654.2" cy="1613.8" r="7" fill="url(#rg42)"/>
<circle cx="591.7" cy="1649.5" r="7" fill="url(#rg42)"/>
<circle cx="623" cy="1651.7" r="7" fill="url(#rg42)"/>
<circle cx="327.4" cy="1718.6" r="14" fill="url(#rg43)"/>
<circle cx="503.7" cy="1696.3" r="14" fill="url(#rg44)"/>
<circle cx="533.8" cy="1690.7" r="7.5" fill="url(#rg45)"/>
<circle cx="601.8" cy="1718.6" r="10" fill="url(#rg44)"/>
<circle cx="609.6" cy="1748.7" r="9" fill="url(#rg44)"/>
<circle cx="667.6" cy="1571.4" r="7" fill="url(#rg46)"/>
<circle cx="629.7" cy="1593.7" r="5" fill="url(#rg47)"/>
<circle cx="637.5" cy="1555.8" r="3.5" fill="url(#rg48)"/>
<circle cx="677.6" cy="1629.4" r="5" fill="url(#rg47)"/>
</g>
<rect x="53" y="1430.5" width="683.4" height="404" fill="none" stroke="#111" stroke-width="3"/>
<text x="107.6" y="1476" font-family="'Liberation Serif','Times New Roman',serif" font-size="32" fill="#111">(d)</text>
<text x="155.5" y="1476" font-family="'Liberation Serif','Times New Roman',serif" font-size="32" font-style="italic" fill="#111">CR<tspan font-size="21" dy="4.2">U2</tspan></text>
<text x="699.9" y="1459.5" font-family="'Liberation Sans',Arial,sans-serif" font-size="17.5" font-weight="bold" text-anchor="middle" textLength="11" lengthAdjust="spacingAndGlyphs" fill="#111">N</text>
<path d="M699.7,1464.3 L688,1501.5 L699.5,1487.7 Z" fill="#111"/>
<path d="M699.7,1464.3 L710.8,1501.5 L699.5,1487.7 Z" fill="none" stroke="#111" stroke-width="1.5" stroke-linejoin="miter"/>
<rect x="68.6" y="1730.4" width="36.7" height="78.1" fill="url(#lg_d)"/>
<text x="124.4" y="1741.3" font-family="'Liberation Serif','Times New Roman',serif" font-size="27.5" fill="#111">3.5</text>
<text x="124.4" y="1818.8" font-family="'Liberation Serif','Times New Roman',serif" font-size="27.5" fill="#111">–26.2</text>
<path d="M255,1801.9 V1815.6 H401.1 V1801.9 M327.7,1815.6 V1805.6" fill="none" stroke="#111" stroke-width="1.8"/>
<text x="255" y="1791.8" font-family="'Liberation Serif','Times New Roman',serif" font-size="20" text-anchor="middle" fill="#111">0</text>
<text x="327.7" y="1791.8" font-family="'Liberation Serif','Times New Roman',serif" font-size="20" text-anchor="middle" fill="#111">250</text>
<text x="386.1" y="1791.8" font-family="'Liberation Serif','Times New Roman',serif" font-size="20" fill="#111">500 km</text>
<g clip-path="url(#clip_e)">
<rect x="783" y="88" width="686.5" height="407" fill="#c6c8db"/>
<g filter="url(#b24)">
<ellipse cx="1110" cy="310" rx="60" ry="110" fill="#dadbe2" opacity="1"/>
</g>
<g filter="url(#b20)">
<ellipse cx="1340" cy="300" rx="90" ry="60" fill="#b3b6d1" opacity="1"/>
</g>
<g filter="url(#b18)">
<ellipse cx="1260" cy="190" rx="90" ry="35" fill="#d2d3de" opacity="1"/>
</g>
<g filter="url(#b16)">
<ellipse cx="880" cy="205" rx="90" ry="45" fill="#dcdcde" opacity="1"/>
<ellipse cx="960" cy="300" rx="40" ry="35" fill="#bcbfd6" opacity="1"/>
</g>
<g filter="url(#b14)">
<ellipse cx="1285" cy="365" rx="65" ry="30" fill="#8ca0cc" opacity="1"/>
</g>
<g filter="url(#b10)">
<polygon points="930,232 1000,208 1060,188 1135,160 1132,200 1112,238 1082,262 1040,272 1000,270 965,250" fill="#e78e80" opacity="1"/>
<polygon points="1030,205 1090,180 1118,178 1105,222 1070,240 1035,232" fill="#da3b31" opacity="1"/>
</g>
<g filter="url(#b8)">
<ellipse cx="1318" cy="395" rx="20" ry="28" fill="#5f86c4" opacity="1"/>
</g>
<g filter="url(#b6)">
<ellipse cx="1315" cy="162" rx="25" ry="8" fill="#e8a597" opacity="1"/>
</g>
<circle cx="1261.5" cy="351.8" r="22" fill="url(#rg49)"/>
<circle cx="1194.7" cy="262.6" r="14" fill="url(#rg50)"/>
<circle cx="1275" cy="218" r="11" fill="url(#rg51)"/>
<circle cx="1310.6" cy="219.2" r="11" fill="url(#rg51)"/>
<circle cx="1319.5" cy="311.7" r="11" fill="url(#rg52)"/>
<circle cx="1355.2" cy="300.5" r="9" fill="url(#rg53)"/>
<circle cx="1353" cy="329.5" r="9" fill="url(#rg53)"/>
<circle cx="1399.8" cy="291.6" r="9" fill="url(#rg54)"/>
<circle cx="1419.9" cy="293.8" r="9" fill="url(#rg54)"/>
<circle cx="1165.7" cy="338.4" r="11" fill="url(#rg55)"/>
<circle cx="1384.2" cy="349.6" r="10" fill="url(#rg56)"/>
<circle cx="1210.3" cy="173.4" r="18" fill="url(#rg57)"/>
<circle cx="1188" cy="318.4" r="18.8" fill="url(#rg58)"/>
<circle cx="1181.3" cy="366.3" r="21.8" fill="url(#rg58)"/>
<circle cx="1309.5" cy="288.3" r="13" fill="url(#rg58)"/>
<circle cx="1291.6" cy="326.2" r="12.3" fill="url(#rg58)"/>
<circle cx="1330.7" cy="349.6" r="11.6" fill="url(#rg58)"/>
<circle cx="1354" cy="349.6" r="11.6" fill="url(#rg58)"/>
<circle cx="1354" cy="368.5" r="11.6" fill="url(#rg58)"/>
<circle cx="1390.9" cy="268.2" r="12.3" fill="url(#rg58)"/>
<circle cx="1408.7" cy="248.1" r="13" fill="url(#rg58)"/>
<circle cx="1188" cy="318.4" r="13" fill="url(#rg16)"/>
<circle cx="1181.3" cy="366.3" r="15" fill="url(#rg16)"/>
<circle cx="1309.5" cy="288.3" r="9" fill="url(#rg16)"/>
<circle cx="1291.6" cy="326.2" r="8.5" fill="url(#rg16)"/>
<circle cx="1330.7" cy="349.6" r="8" fill="url(#rg16)"/>
<circle cx="1354" cy="349.6" r="8" fill="url(#rg16)"/>
<circle cx="1354" cy="368.5" r="8" fill="url(#rg16)"/>
<circle cx="1390.9" cy="268.2" r="8.5" fill="url(#rg16)"/>
<circle cx="1408.7" cy="248.1" r="9" fill="url(#rg16)"/>
<circle cx="1252.6" cy="290.5" r="7" fill="url(#rg59)"/>
<circle cx="1347.4" cy="235.9" r="4" fill="url(#rg60)"/>
<circle cx="1377.5" cy="229.2" r="5" fill="url(#rg60)"/>
</g>
<rect x="784.5" y="89.5" width="683.5" height="404" fill="none" stroke="#111" stroke-width="3"/>
<text x="838.2" y="136.6" font-family="'Liberation Serif','Times New Roman',serif" font-size="32" fill="#111">(e)</text>
<text x="884.3" y="136.6" font-family="'Liberation Serif','Times New Roman',serif" font-size="32" font-style="italic" fill="#111">CR<tspan font-size="21" dy="4.2">RS</tspan></text>
<text x="1415.5" y="120.2" font-family="'Liberation Sans',Arial,sans-serif" font-size="17.5" font-weight="bold" text-anchor="middle" textLength="11" lengthAdjust="spacingAndGlyphs" fill="#111">N</text>
<path d="M1415.4,124.1 L1403.7,161.6 L1415.2,147.9 Z" fill="#111"/>
<path d="M1415.4,124.1 L1426.8,161.8 L1415.2,147.9 Z" fill="none" stroke="#111" stroke-width="1.5" stroke-linejoin="miter"/>
<rect x="804.1" y="391.2" width="32.7" height="77.3" fill="url(#lg_e)"/>
<text x="844.4" y="400.7" font-family="'Liberation Serif','Times New Roman',serif" font-size="27.5" fill="#111">2.8</text>
<text x="844.4" y="478.8" font-family="'Liberation Serif','Times New Roman',serif" font-size="27.5" fill="#111">–14.5</text>
<path d="M984,462.4 V476.1 H1138.3 V462.4 M1060.7,476.1 V466.1" fill="none" stroke="#111" stroke-width="1.8"/>
<text x="984" y="452.3" font-family="'Liberation Serif','Times New Roman',serif" font-size="20" text-anchor="middle" fill="#111">0</text>
<text x="1060.7" y="452.3" font-family="'Liberation Serif','Times New Roman',serif" font-size="20" text-anchor="middle" fill="#111">250</text>
<text x="1123.3" y="452.3" font-family="'Liberation Serif','Times New Roman',serif" font-size="20" fill="#111">500 km</text>
<g clip-path="url(#clip_f)">
<rect x="786" y="527" width="686" height="407" fill="#e9aea4"/>
<g filter="url(#b30)">
<ellipse cx="1080" cy="735" rx="130" ry="85" fill="#e47565" opacity="1"/>
</g>
<g filter="url(#b18)">
<ellipse cx="1150" cy="772" rx="55" ry="50" fill="#de5244" opacity="1"/>
<ellipse cx="1270" cy="628" rx="80" ry="35" fill="#ebbdb4" opacity="1"/>
</g>
<g filter="url(#b16)">
<polygon points="1225,715 1300,700 1360,720 1385,790 1360,850 1300,850 1230,820" fill="#e5dcdc" opacity="1"/>
</g>
<g filter="url(#b10)">
<ellipse cx="845" cy="615" rx="45" ry="25" fill="#e6c9c7" opacity="1"/>
<ellipse cx="1335" cy="800" rx="18" ry="25" fill="#c9d0e2" opacity="1"/>
<ellipse cx="1385" cy="675" rx="35" ry="22" fill="#b8c5e0" opacity="1"/>
<ellipse cx="1418" cy="732" rx="22" ry="32" fill="#dfdde3" opacity="1"/>
</g>
<g filter="url(#b8)">
<polygon points="1380,780 1402,760 1408,800 1388,850 1358,872 1345,850 1370,810" fill="#7f9fd2" opacity="1"/>
<ellipse cx="1335" cy="862" rx="12" ry="25" fill="#c8cfe2" opacity="1"/>
</g>
<circle cx="1167.9" cy="776.2" r="22" fill="url(#rg7)"/>
<circle cx="1183.5" cy="805.2" r="11" fill="url(#rg61)"/>
<circle cx="1234.8" cy="794" r="12" fill="url(#rg62)"/>
<circle cx="1196.9" cy="702.6" r="11" fill="url(#rg63)"/>
<circle cx="1254.9" cy="729.4" r="10" fill="url(#rg64)"/>
<circle cx="1292.8" cy="709.3" r="8" fill="url(#rg65)"/>
<circle cx="1263.8" cy="702.6" r="7" fill="url(#rg66)"/>
<circle cx="1315" cy="687" r="7" fill="url(#rg67)"/>
<circle cx="1356.3" cy="695.9" r="9" fill="url(#rg68)"/>
<circle cx="1215.8" cy="611.2" r="10" fill="url(#rg69)"/>
<circle cx="1359.7" cy="662" r="14" fill="url(#rg2)"/>
<circle cx="1359.7" cy="676" r="12" fill="url(#rg2)"/>
<circle cx="1344" cy="713.8" r="9" fill="url(#rg2)"/>
<circle cx="1382" cy="718.2" r="11" fill="url(#rg2)"/>
<circle cx="1393" cy="676" r="7" fill="url(#rg1)"/>
<circle cx="1411" cy="687" r="8" fill="url(#rg1)"/>
<circle cx="1395.3" cy="707" r="7" fill="url(#rg1)"/>
<circle cx="1399.8" cy="767.3" r="10" fill="url(#rg70)"/>
<circle cx="1382" cy="809.7" r="11" fill="url(#rg70)"/>
<circle cx="1370.8" cy="840.9" r="12" fill="url(#rg70)"/>
<circle cx="1295" cy="765" r="9" fill="url(#rg71)"/>
<circle cx="1290.5" cy="727.2" r="4" fill="url(#rg72)"/>
</g>
<rect x="787.5" y="528.5" width="683" height="404" fill="none" stroke="#111" stroke-width="3"/>
<text x="839.4" y="575.4" font-family="'Liberation Serif','Times New Roman',serif" font-size="32" fill="#111">(f)</text>
<text x="884.3" y="575.4" font-family="'Liberation Serif','Times New Roman',serif" font-size="32" font-style="italic" fill="#111">CR<tspan font-size="21" dy="4.2">RH</tspan></text>
<text x="1411.7" y="558" font-family="'Liberation Sans',Arial,sans-serif" font-size="17.5" font-weight="bold" text-anchor="middle" textLength="11" lengthAdjust="spacingAndGlyphs" fill="#111">N</text>
<path d="M1411.6,564 L1400.6,600.8 L1411.6,587 Z" fill="#111"/>
<path d="M1411.6,564 L1422.9,599.6 L1411.6,587 Z" fill="none" stroke="#111" stroke-width="1.5" stroke-linejoin="miter"/>
<rect x="804.1" y="830.4" width="32.7" height="77.6" fill="url(#lg_f)"/>
<text x="844.4" y="839.9" font-family="'Liberation Serif','Times New Roman',serif" font-size="27.5" fill="#111">22.0</text>
<text x="844" y="918.3" font-family="'Liberation Serif','Times New Roman',serif" font-size="27.5" fill="#111">–5.5</text>
<path d="M995.4,901.9 V915.6 H1148.6 V901.9 M1072.2,915.6 V905.6" fill="none" stroke="#111" stroke-width="1.8"/>
<text x="995.4" y="891.8" font-family="'Liberation Serif','Times New Roman',serif" font-size="20" text-anchor="middle" fill="#111">0</text>
<text x="1072.2" y="891.8" font-family="'Liberation Serif','Times New Roman',serif" font-size="20" text-anchor="middle" fill="#111">250</text>
<text x="1133.6" y="891.8" font-family="'Liberation Serif','Times New Roman',serif" font-size="20" fill="#111">500 km</text>
<g clip-path="url(#clip_g)">
<rect x="784" y="972.5" width="686" height="407.5" fill="#eecaca"/>
<g filter="url(#b24)">
<ellipse cx="1150" cy="1160" rx="80" ry="80" fill="#f0b2b2" opacity="1"/>
</g>
<g filter="url(#b22)">
<ellipse cx="1330" cy="1235" rx="90" ry="50" fill="#ead4d4" opacity="1"/>
</g>
<g filter="url(#b20)">
<ellipse cx="1205" cy="1150" rx="60" ry="40" fill="#f0aaaa" opacity="1"/>
</g>
<g filter="url(#b14)">
<polygon points="805,1040 900,1045 1000,1080 1100,1055 1160,1040 1110,1110 1000,1138 900,1138 850,1112" fill="#dddddd" opacity="1"/>
<ellipse cx="950" cy="1192" rx="35" ry="30" fill="#ecbcbc" opacity="1"/>
<ellipse cx="1015" cy="1200" rx="25" ry="60" fill="#e4d6d6" opacity="1"/>
</g>
<circle cx="1243.7" cy="1101.3" r="9" fill="url(#rg73)"/>
<circle cx="1274.9" cy="1101.3" r="9" fill="url(#rg73)"/>
<circle cx="1310.6" cy="1103.6" r="9" fill="url(#rg73)"/>
<circle cx="1208" cy="1128.1" r="9" fill="url(#rg73)"/>
<circle cx="1288.3" cy="1172.7" r="9" fill="url(#rg73)"/>
<circle cx="1290.5" cy="1157.1" r="9" fill="url(#rg73)"/>
<circle cx="1319.5" cy="1197.2" r="9" fill="url(#rg73)"/>
<circle cx="1290.5" cy="1210.6" r="9" fill="url(#rg73)"/>
<circle cx="1254.9" cy="1206.1" r="9" fill="url(#rg73)"/>
<circle cx="1232.6" cy="1239.6" r="9" fill="url(#rg73)"/>
<circle cx="1364.1" cy="1174.9" r="9" fill="url(#rg73)"/>
<circle cx="1419.9" cy="1181.6" r="9" fill="url(#rg73)"/>
<circle cx="1393.1" cy="1212.8" r="9" fill="url(#rg73)"/>
<circle cx="1210.3" cy="1059" r="9" fill="url(#rg73)"/>
<circle cx="1348.5" cy="1119.2" r="9" fill="url(#rg73)"/>
<circle cx="1330.7" cy="1235.1" r="9" fill="url(#rg73)"/>
<circle cx="1370.8" cy="1215.1" r="9" fill="url(#rg73)"/>
<circle cx="1181.3" cy="1248.5" r="11" fill="url(#rg12)"/>
<circle cx="1262.7" cy="1149.3" r="15" fill="url(#rg7)"/>
<circle cx="1353" cy="1143.7" r="13" fill="url(#rg7)"/>
<circle cx="1340.7" cy="1158.2" r="10" fill="url(#rg74)"/>
<circle cx="1356.3" cy="1188.3" r="5" fill="url(#rg29)"/>
<circle cx="1195.8" cy="1149.3" r="9" fill="url(#rg75)"/>
<circle cx="1188" cy="1202.8" r="11" fill="url(#rg76)"/>
<circle cx="1310.6" cy="1175" r="7" fill="url(#rg77)"/>
<circle cx="1379.7" cy="1163.8" r="7" fill="url(#rg78)"/>
<circle cx="1408.7" cy="1161.5" r="7" fill="url(#rg78)"/>
</g>
<rect x="785.5" y="974" width="683" height="404.5" fill="none" stroke="#111" stroke-width="3"/>
<text x="837.6" y="1019.8" font-family="'Liberation Serif','Times New Roman',serif" font-size="32" fill="#111">(g)</text>
<text x="884.3" y="1019.8" font-family="'Liberation Serif','Times New Roman',serif" font-size="32" font-style="italic" fill="#111">CR<tspan font-size="21" dy="4.2">Tmean</tspan></text>
<text x="1413" y="1003.2" font-family="'Liberation Sans',Arial,sans-serif" font-size="17.5" font-weight="bold" text-anchor="middle" textLength="11" lengthAdjust="spacingAndGlyphs" fill="#111">N</text>
<path d="M1412.7,1008.2 L1401.7,1045.4 L1412.7,1031.3 Z" fill="#111"/>
<path d="M1412.7,1008.2 L1424,1044.6 L1412.7,1031.3 Z" fill="none" stroke="#111" stroke-width="1.5" stroke-linejoin="miter"/>
<rect x="804.1" y="1275.4" width="32.7" height="77.6" fill="url(#lg_g)"/>
<text x="844" y="1285" font-family="'Liberation Serif','Times New Roman',serif" font-size="27.5" fill="#111">36.2</text>
<text x="844" y="1363.8" font-family="'Liberation Serif','Times New Roman',serif" font-size="27.5" fill="#111">–0.5</text>
<path d="M1000.1,1346.1 V1359.8 H1145.1 V1346.1 M1073,1359.8 V1349.8" fill="none" stroke="#111" stroke-width="1.8"/>
<text x="1000.1" y="1336" font-family="'Liberation Serif','Times New Roman',serif" font-size="20" text-anchor="middle" fill="#111">0</text>
<text x="1073" y="1336" font-family="'Liberation Serif','Times New Roman',serif" font-size="20" text-anchor="middle" fill="#111">245</text>
<text x="1130.1" y="1336" font-family="'Liberation Serif','Times New Roman',serif" font-size="20" fill="#111">490 km</text>
<g clip-path="url(#clip_h)">
<rect x="785" y="1430" width="687" height="406.5" fill="#eac8c0"/>
<g filter="url(#b22)">
<ellipse cx="990" cy="1622" rx="90" ry="55" fill="#e9a595" opacity="1"/>
<ellipse cx="1340" cy="1662" rx="90" ry="45" fill="#eeb0a4" opacity="1"/>
</g>
<g filter="url(#b20)">
<ellipse cx="1225" cy="1580" rx="45" ry="70" fill="#e8dcda" opacity="1"/>
</g>
<g filter="url(#b16)">
<polygon points="990,1575 1050,1545 1135,1508 1132,1600 1080,1640 1000,1640" fill="#e57a68" opacity="1"/>
<ellipse cx="1090" cy="1705" rx="80" ry="25" fill="#e4dada" opacity="1"/>
</g>
<g filter="url(#b12)">
<ellipse cx="915" cy="1565" rx="45" ry="18" fill="#e6d0cc" opacity="1"/>
</g>
<g filter="url(#b10)">
<ellipse cx="1365" cy="1520" rx="25" ry="15" fill="#e5806f" opacity="1"/>
</g>
<g filter="url(#b7)">
<polygon points="1045,1548 1100,1522 1136,1508 1132,1570 1100,1588 1065,1575" fill="#dc4030" opacity="1"/>
</g>
<g filter="url(#b6)">
<ellipse cx="1092" cy="1538" rx="22" ry="12" fill="#d62a20" opacity="1"/>
</g>
<g filter="url(#b5)">
<ellipse cx="826" cy="1503" rx="15" ry="10" fill="#c0c6dc" opacity="1"/>
</g>
<circle cx="1277.2" cy="1559.2" r="36" fill="url(#rg79)"/>
<circle cx="1312.8" cy="1591.5" r="7" fill="url(#rg80)"/>
<circle cx="1292.8" cy="1611.5" r="7" fill="url(#rg80)"/>
<circle cx="1312.8" cy="1630.5" r="7" fill="url(#rg80)"/>
<circle cx="1357.4" cy="1598.2" r="7" fill="url(#rg80)"/>
<circle cx="1382" cy="1622.7" r="7" fill="url(#rg80)"/>
<circle cx="1403" cy="1636" r="7" fill="url(#rg80)"/>
<circle cx="1375.3" cy="1671.7" r="7" fill="url(#rg80)"/>
<circle cx="1356.3" cy="1709.7" r="7" fill="url(#rg80)"/>
<circle cx="1196.9" cy="1604.9" r="7" fill="url(#rg80)"/>
<circle cx="1277.2" cy="1559.2" r="25" fill="url(#rg81)"/>
<circle cx="1363" cy="1563.6" r="9" fill="url(#rg2)"/>
<circle cx="1349.6" cy="1578.1" r="8" fill="url(#rg82)"/>
<circle cx="1234.8" cy="1698.5" r="18" fill="url(#rg1)"/>
<circle cx="1312.8" cy="1563.6" r="11" fill="url(#rg83)"/>
<circle cx="1424.3" cy="1638.3" r="13" fill="url(#rg84)"/>
<circle cx="1293.9" cy="1668.4" r="14" fill="url(#rg85)"/>
<circle cx="1321.7" cy="1652.8" r="9" fill="url(#rg86)"/>
<circle cx="1365.2" cy="1631.6" r="9" fill="url(#rg86)"/>
<circle cx="1356.3" cy="1672.9" r="9" fill="url(#rg86)"/>
<circle cx="1290.5" cy="1631.6" r="9" fill="url(#rg87)"/>
<circle cx="1397.6" cy="1651.7" r="8" fill="url(#rg87)"/>
<circle cx="1172.4" cy="1682.9" r="12" fill="url(#rg88)"/>
</g>
<rect x="786.5" y="1431.5" width="684" height="403.5" fill="none" stroke="#111" stroke-width="3"/>
<text x="839.9" y="1476" font-family="'Liberation Serif','Times New Roman',serif" font-size="32" fill="#111">(h)</text>
<text x="884.3" y="1476" font-family="'Liberation Serif','Times New Roman',serif" font-size="32" font-style="italic" fill="#111">CR<tspan font-size="21" dy="4.2">U2</tspan></text>
<text x="1413.2" y="1459.5" font-family="'Liberation Sans',Arial,sans-serif" font-size="17.5" font-weight="bold" text-anchor="middle" textLength="11" lengthAdjust="spacingAndGlyphs" fill="#111">N</text>
<path d="M1412.8,1464.7 L1401.9,1500.8 L1412.7,1487 Z" fill="#111"/>
<path d="M1412.8,1464.7 L1424,1500.4 L1412.7,1487 Z" fill="none" stroke="#111" stroke-width="1.5" stroke-linejoin="miter"/>
<rect x="804.1" y="1730.4" width="32.7" height="77.6" fill="url(#lg_h)"/>
<text x="843.1" y="1740.7" font-family="'Liberation Serif','Times New Roman',serif" font-size="27.5" fill="#111">26.3</text>
<text x="843" y="1818.8" font-family="'Liberation Serif','Times New Roman',serif" font-size="27.5" fill="#111">–18.1</text>
<path d="M995.4,1802.4 V1816.1 H1147.8 V1802.4 M1071.6,1816.1 V1806.1" fill="none" stroke="#111" stroke-width="1.8"/>
<text x="995.4" y="1792.3" font-family="'Liberation Serif','Times New Roman',serif" font-size="20" text-anchor="middle" fill="#111">0</text>
<text x="1071.6" y="1792.3" font-family="'Liberation Serif','Times New Roman',serif" font-size="20" text-anchor="middle" fill="#111">250</text>
<text x="1132.8" y="1792.3" font-family="'Liberation Serif','Times New Roman',serif" font-size="20" fill="#111">500 km</text>
</svg></body></html>
